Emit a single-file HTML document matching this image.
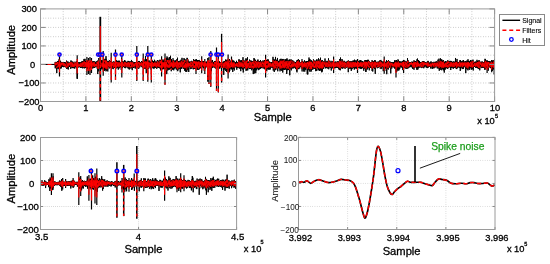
<!DOCTYPE html>
<html><head><meta charset="utf-8"><title>Signal</title><style>
html,body{margin:0;padding:0;background:#fff;overflow:hidden}
svg{display:block}
text{font-family:"Liberation Sans",Arial,Helvetica,sans-serif;fill:#000;stroke:#000;stroke-width:0.3px}
.tl{font-size:9.3px}
.tb{font-size:9.6px}
.ts{font-size:8.2px;fill:#222;stroke:#222;stroke-width:0.05px}
.lb{font-size:11.2px}
.lb2{font-size:9.4px;fill:#222;stroke:#222;stroke-width:0.1px}
.lg{font-size:7px;stroke-width:0.1px}
.sup{font-size:5.5px}
.sp{font-size:10.3px;fill:#1d9e1d;stroke:#1d9e1d;stroke-width:0.25px}
.g{stroke:#9a9a9a;stroke-width:0.7;stroke-dasharray:0.7 1.8;fill:none}
.g2{stroke:#b0b0b0;stroke-width:0.7;stroke-dasharray:0.7 1.4;fill:none}
.g3{stroke:#bcbcbc;stroke-width:0.7;stroke-dasharray:0.7 1.6;fill:none}
.ax{fill:none;stroke:#9a9a9a;stroke-width:1}
.tk{fill:none;stroke:#888;stroke-width:1}
.sb{fill:none;stroke:#000;stroke-width:1;stroke-linejoin:bevel}
.sk{fill:none;stroke:#000;stroke-width:1.2}
.skr{fill:none;stroke:#f00;stroke-width:1.2}
.sr{fill:none;stroke:#f00;stroke-width:0.85;stroke-linejoin:bevel}
.hit{fill:#f55;stroke:#00f;stroke-width:1.4}
</style></head><body>
<svg width="550" height="264" viewBox="0 0 550 264">
<rect width="550" height="264" fill="#fff"/>
<path d="M63.2 8.9V101.5M85.91 8.9V101.5M108.62 8.9V101.5M131.32 8.9V101.5M154.03 8.9V101.5M176.73 8.9V101.5M199.44 8.9V101.5M222.14 8.9V101.5M244.84 8.9V101.5M267.55 8.9V101.5M290.25 8.9V101.5M312.96 8.9V101.5M335.67 8.9V101.5M358.37 8.9V101.5M381.07 8.9V101.5M403.78 8.9V101.5M426.49 8.9V101.5M449.19 8.9V101.5M471.89 8.9V101.5M40.5 92.24H494.6M40.5 82.98H494.6M40.5 73.72H494.6M40.5 64.46H494.6M40.5 55.2H494.6M40.5 45.94H494.6M40.5 36.68H494.6M40.5 27.42H494.6M40.5 18.16H494.6" class="g"/>
<path d="M40.5 64.46H55" stroke="#000" stroke-width="1.1" fill="none"/>
<path d="M40.5 64.46H55" stroke="#f00" stroke-width="1.1" fill="none" stroke-dasharray="4 3"/>
<path d="M40.5 64.46V70" stroke="#f00" stroke-width="1" fill="none"/>
<path d="M55 61.95 55.25 68.32 55.5 62.88 55.75 65.97 56 61.85 56.25 67.12 56.5 62.46 56.75 73.11 57 62.24 57.25 66.82 57.5 61.12 57.75 68.49 58 61.02 58.25 68.75 58.5 62.32 58.75 66.68 59 59.38 59.25 69.43 59.5 62.6 59.75 68.93 60 62.27 60.25 68.41 60.5 60.77 60.75 67.45 61 61.86 61.25 68.38 61.5 62.62 61.75 66.46 62 62.21 62.25 66.11 62.5 62.05 62.75 66.86 63 62.14 63.25 66.74 63.5 63.2 63.75 67.19 64 62.61 64.25 66.66 64.5 62.17 64.75 65.91 65 62.02 65.25 66.71 65.5 63.32 65.75 67.13 66 62.36 66.25 68.02 66.5 60.61 66.75 68.86 67 62.29 67.25 68.61 67.5 61.71 67.75 66.97 68 61.52 68.25 69.51 68.5 63.2 68.75 66.9 69 62.32 69.25 66.83 69.5 62.74 69.75 67.02 70 63.26 70.25 67 70.5 61.73 70.75 68.87 71 60.42 71.25 67.07 71.5 61.57 71.75 67.5 72 63.1 72.25 67.76 72.5 61.63 72.75 68.15 73 61.79 73.25 67.79 73.5 62.72 73.75 68.2 74 63.22 74.25 67.57 74.5 63.09 74.75 68.63 75 61.66 75.25 66.36 75.5 62.91 75.75 67.19 76 62.56 76.25 67.34 76.5 61.9 76.75 68 77 61.18 77.25 78.87 77.5 61.6 77.75 68.05 78 62.19 78.25 67.33 78.5 62.82 78.75 66.03 79 62.34 79.25 67.11 79.5 62.31 79.75 66.86 80 63.4 80.25 67.55 80.5 62.15 80.75 67.83 81 62.25 81.25 67.65 81.5 62.59 81.75 67.44 82 61.03 82.25 66.94 82.5 61.59 82.75 68.36 83 61.48 83.25 67.75 83.5 61.24 83.75 66.56 84 58.95 84.25 68.16 84.5 60.02 84.75 68.3 85 58.83 85.25 67.33 85.5 61.09 85.75 67.93 86 62 86.25 67.49 86.5 62.25 86.75 67.86 87 61.23 87.25 68.16 87.5 60.63 87.75 68.98 88 60.31 88.25 67.97 88.5 61.14 88.75 67.7 89 62.59 89.25 68.92 89.5 62.32 89.75 67.1 90 62.57 90.25 67.99 90.5 62.69 90.75 66.41 91 60.98 91.25 67.83 91.5 62.3 91.75 67.28 92 61.15 92.25 66.69 92.5 63.01 92.75 68.5 93 61.22 93.25 66.26 93.5 61.46 93.75 67.82 94 61.63 94.25 67.69 94.5 61.65 94.75 68.01 95 61.58 95.25 66.4 95.5 62.29 95.75 66.28 96 62.22 96.25 66.3 96.5 61.48 96.75 67.1 97 61.53 97.25 68.75 97.5 60.62 97.75 74.05 98 62.31 98.25 67.08 98.5 62.09 98.75 66.11 99 63.61 99.25 66.97 99.5 62.76 99.75 66.1 100 63.37 100.25 68.22 100.5 63.11 100.75 67.15 101 62.35 101.25 67.51 101.5 60.32 101.75 69.28 102 59.97 102.25 69.25 102.5 61.68 102.75 67.97 103 61.52 103.25 67.43 103.5 59.59 103.75 68.75 104 59.41 104.25 70.85 104.5 61.59 104.75 70.54 105 58.81 105.25 67.87 105.5 59.35 105.75 70.11 106 56.15 106.25 67.78 106.5 59.88 106.75 70.81 107 61.51 107.25 68.37 107.5 61.84 107.75 71.38 108 60.75 108.25 66.99 108.5 61.86 108.75 66.44 109 61.07 109.25 68.46 109.5 60.28 109.75 67.8 110 61.27 110.25 66.49 110.5 61.11 110.75 67.65 111 62.66 111.25 67.56 111.5 61.38 111.75 66.76 112 62.79 112.25 68.65 112.5 62.94 112.75 67 113 61.75 113.25 69.14 113.5 61.62 113.75 67.66 114 61.68 114.25 68.02 114.5 61.93 114.75 67.8 115 62.03 115.25 67.88 115.5 61.04 115.75 66.29 116 61.18 116.25 68.42 116.5 60.27 116.75 68.01 117 62.42 117.25 68.04 117.5 60.86 117.75 66.83 118 62.16 118.25 69.6 118.5 60.75 118.75 68.91 119 61.64 119.25 66.47 119.5 60.76 119.75 67.88 120 62.77 120.25 66.56 120.5 62.92 120.75 66.55 121 61.88 121.25 69.91 121.5 58.32 121.75 68.01 122 61.18 122.25 68.18 122.5 61.57 122.75 67.27 123 61.04 123.25 66.91 123.5 61.94 123.75 66.68 124 62.09 124.25 67.17 124.5 60.09 124.75 67.88 125 60.49 125.25 68.23 125.5 61.61 125.75 66.21 126 61.83 126.25 66.72 126.5 62.41 126.75 67.26 127 61.73 127.25 67.54 127.5 62.67 127.75 67.18 128 60.85 128.25 68.74 128.5 61.01 128.75 66.24 129 62.05 129.25 69.52 129.5 61.43 129.75 68.53 130 61.85 130.25 68.42 130.5 61.62 130.75 66.54 131 61.45 131.25 68.01 131.5 60.01 131.75 68.4 132 62.25 132.25 70.18 132.5 61.44 132.75 66.23 133 61.81 133.25 67.75 133.5 62.62 133.75 67.97 134 62.44 134.25 67.08 134.5 62.23 134.75 67.21 135 62.69 135.25 68.63 135.5 61.99 135.75 65.82 136 62.46 136.25 66.93 136.5 62.23 136.75 66.53 137 61.75 137.25 66.37 137.5 62.01 137.75 67.48 138 62.28 138.25 68.47 138.5 61.14 138.75 68.66 139 60.95 139.25 67.02 139.5 61.27 139.75 67.37 140 61.99 140.25 65.88 140.5 62.91 140.75 66.13 141 62.13 141.25 66.22 141.5 61.07 141.75 66.59 142 63.23 142.25 67.37 142.5 62.26 142.75 67.2 143 61.25 143.25 67.64 143.5 61.8 143.75 68.91 144 59.39 144.25 68.64 144.5 60.94 144.75 68.06 145 62.12 145.25 67.65 145.5 55.98 145.75 68.95 146 60.65 146.25 73.16 146.5 59.19 146.75 69.36 147 60.13 147.25 69.92 147.5 60.6 147.75 68.57 148 61.79 148.25 67.71 148.5 61.57 148.75 68.64 149 60.22 149.25 66.79 149.5 61.63 149.75 67.3 150 61.78 150.25 66.78 150.5 62.27 150.75 68.28 151 61.53 151.25 70.13 151.5 62.62 151.75 67.17 152 59.82 152.25 67.29 152.5 60.88 152.75 67.55 153 61.29 153.25 68.67 153.5 61.23 153.75 67.39 154 62.32 154.25 68.47 154.5 59.84 154.75 66.56 155 60.78 155.25 67.71 155.5 62.08 155.75 67.78 156 62.22 156.25 67.82 156.5 62.12 156.75 68.85 157 60.76 157.25 67.53 157.5 60.07 157.75 66.83 158 61.46 158.25 67.93 158.5 62.02 158.75 67.51 159 60.26 159.25 67.77 159.5 62.07 159.75 68.38 160 59.68 160.25 68.06 160.5 60.55 160.75 70.46 161 60.82 161.25 68.79 161.5 60.59 161.75 67.36 162 60.24 162.25 68.91 162.5 61.65 162.75 69.39 163 59.45 163.25 69.1 163.5 60.79 163.75 68.33 164 60.74 164.25 69.11 164.5 59.45 164.75 67.45 165 61.25 165.25 67.6 165.5 61.74 165.75 68.56 166 61 166.25 69.41 166.5 58.29 166.75 74.11 167 56.43 167.25 67.86 167.5 57.93 167.75 70.5 168 57.57 168.25 69.79 168.5 60.59 168.75 68.05 169 59.08 169.25 69.73 169.5 57.03 169.75 68.68 170 58.12 170.25 68.75 170.5 55.8 170.75 68.13 171 61.54 171.25 71.23 171.5 59.15 171.75 68.62 172 60.61 172.25 69.21 172.5 61.27 172.75 69.47 173 62.74 173.25 68.34 173.5 59.83 173.75 70.3 174 60.56 174.25 68.68 174.5 62.02 174.75 67.54 175 60.61 175.25 67.38 175.5 61.81 175.75 68.25 176 60.05 176.25 69.49 176.5 60.57 176.75 67.88 177 59 177.25 70.46 177.5 57.71 177.75 71.15 178 61.2 178.25 69.33 178.5 61.25 178.75 69.17 179 61.61 179.25 68.52 179.5 61.48 179.75 68.18 180 60.68 180.25 72.35 180.5 60.99 180.75 68.43 181 59.74 181.25 68.96 181.5 60.21 181.75 67.96 182 57.84 182.25 66.99 182.5 62.2 182.75 66.92 183 61.27 183.25 68.91 183.5 61.12 183.75 67.42 184 58.13 184.25 68.24 184.5 58.92 184.75 70.81 185 59.07 185.25 69.61 185.5 60.66 185.75 71.77 186 62.38 186.25 69.82 186.5 61.65 186.75 71.93 187 57.83 187.25 67.79 187.5 58.05 187.75 70.17 188 59.52 188.25 68.17 188.5 61.6 188.75 71.97 189 61.59 189.25 65.8 189.5 61.82 189.75 66.6 190 61.83 190.25 69.14 190.5 61.61 190.75 66.97 191 62.35 191.25 67.17 191.5 60.86 191.75 68.89 192 62.38 192.25 66.81 192.5 61.57 192.75 66.45 193 62.47 193.25 69.35 193.5 59.05 193.75 68.94 194 61.19 194.25 68.61 194.5 59.92 194.75 69 195 60.66 195.25 68.82 195.5 59.58 195.75 68.95 196 60.11 196.25 66.9 196.5 59.29 196.75 67.21 197 60.66 197.25 69.9 197.5 60.14 197.75 68.3 198 60.38 198.25 69.67 198.5 60.23 198.75 69.6 199 60.09 199.25 69.1 199.5 60.56 199.75 68.7 200 62.85 200.25 67.07 200.5 60.99 200.75 68.21 201 61.97 201.25 67.34 201.5 62.71 201.75 67.31 202 61.02 202.25 66.41 202.5 63.04 202.75 66.86 203 61.2 203.25 68.21 203.5 61.33 203.75 67.25 204 61.57 204.25 70.77 204.5 61.53 204.75 67.16 205 61.76 205.25 68.69 205.5 62.95 205.75 66.89 206 62.56 206.25 67.21 206.5 61.72 206.75 65.64 207 61.64 207.25 67.58 207.5 61.19 207.75 68.95 208 61.6 208.25 67.99 208.5 62.57 208.75 68.11 209 62.99 209.25 66.2 209.5 62.45 209.75 66.3 210 63.16 210.25 67.37 210.5 62.69 210.75 67.22 211 61.82 211.25 71.25 211.5 62.88 211.75 67.33 212 60.34 212.25 68.07 212.5 59.98 212.75 65.87 213 61.84 213.25 66.5 213.5 62.59 213.75 67.25 214 62.37 214.25 67.55 214.5 61.15 214.75 66.78 215 61.31 215.25 68.25 215.5 61.29 215.75 68.42 216 60.87 216.25 66.54 216.5 62.62 216.75 69.7 217 61.61 217.25 67.55 217.5 62.83 217.75 66.05 218 62.04 218.25 66.3 218.5 62.7 218.75 68.01 219 62.88 219.25 68.14 219.5 61.34 219.75 68.69 220 62.37 220.25 67.43 220.5 62.03 220.75 66.79 221 62.49 221.25 66.06 221.5 62.98 221.75 67.43 222 62.86 222.25 66.37 222.5 63.15 222.75 67.34 223 62.17 223.25 68.21 223.5 62.38 223.75 74.89 224 60.94 224.25 69.6 224.5 61.31 224.75 67.01 225 61.24 225.25 66.81 225.5 59.57 225.75 71.03 226 60.93 226.25 67.65 226.5 60.31 226.75 72.04 227 59.6 227.25 68.79 227.5 60.69 227.75 70.34 228 60.58 228.25 67.52 228.5 60.41 228.75 70.97 229 60.68 229.25 72.23 229.5 59.03 229.75 70.81 230 62.28 230.25 68.34 230.5 61.88 230.75 68.37 231 60.43 231.25 69.17 231.5 61.78 231.75 69.35 232 59.65 232.25 68.23 232.5 61.11 232.75 71.99 233 60.25 233.25 68.86 233.5 61.08 233.75 68.37 234 60.87 234.25 70.49 234.5 62.49 234.75 67.81 235 62.67 235.25 66.85 235.5 62.32 235.75 67.11 236 62.73 236.25 66.61 236.5 60.84 236.75 69.7 237 62.34 237.25 67.12 237.5 62.49 237.75 68.04 238 62.64 238.25 67.07 238.5 60.34 238.75 68.02 239 59.11 239.25 68.32 239.5 60.38 239.75 68.57 240 61.7 240.25 66.67 240.5 60.69 240.75 71.16 241 60.25 241.25 68.13 241.5 60.37 241.75 68.51 242 61.46 242.25 67.02 242.5 61.66 242.75 69.56 243 57.21 243.25 72.5 243.5 61.65 243.75 67.95 244 60.19 244.25 68.46 244.5 61.6 244.75 66.83 245 62.33 245.25 66.37 245.5 61.89 245.75 66.84 246 59.06 246.25 69.52 246.5 59.59 246.75 70.39 247 60.29 247.25 69.7 247.5 57.29 247.75 70.36 248 61.22 248.25 68.09 248.5 62.84 248.75 67.94 249 62.57 249.25 68.7 249.5 59.61 249.75 69.07 250 62.61 250.25 69.04 250.5 60.72 250.75 67.87 251 60.5 251.25 68.04 251.5 61.86 251.75 70.28 252 60.98 252.25 68.36 252.5 61 252.75 68.66 253 61.4 253.25 74.06 253.5 61.54 253.75 68.83 254 58.01 254.25 73.5 254.5 58.92 254.75 69.7 255 62.29 255.25 67.36 255.5 59.76 255.75 73.16 256 60.9 256.25 70.35 256.5 61.01 256.75 67.08 257 62.18 257.25 67.56 257.5 59.94 257.75 68.85 258 59.55 258.25 70.16 258.5 61.15 258.75 68.3 259 62.66 259.25 69.51 259.5 61.13 259.75 68.65 260 62.31 260.25 68.73 260.5 59.99 260.75 68.44 261 63.05 261.25 67.87 261.5 62.55 261.75 67.97 262 61.05 262.25 66.3 262.5 62.09 262.75 68.26 263 60.42 263.25 66.7 263.5 62.68 263.75 68.5 264 60.84 264.25 67.14 264.5 60.13 264.75 69.27 265 62.16 265.25 68.1 265.5 60.58 265.75 69.33 266 59.91 266.25 67.83 266.5 60.33 266.75 71.07 267 61.13 267.25 67.62 267.5 59.86 267.75 69.22 268 59.11 268.25 69.05 268.5 60.22 268.75 69.66 269 61.25 269.25 67.9 269.5 62.01 269.75 69.52 270 61.91 270.25 69.34 270.5 62 270.75 66.68 271 62.88 271.25 67.64 271.5 62.28 271.75 66.58 272 62.43 272.25 67.97 272.5 62.17 272.75 67.5 273 56.83 273.25 70.56 273.5 61.35 273.75 67.73 274 59.06 274.25 71.97 274.5 60.05 274.75 68.75 275 60.56 275.25 70.2 275.5 56.89 275.75 69.41 276 59.58 276.25 67.82 276.5 60.46 276.75 67.12 277 60.06 277.25 69.71 277.5 57.94 277.75 71.27 278 61.29 278.25 67.87 278.5 60.88 278.75 67.55 279 61.8 279.25 68.87 279.5 60.64 279.75 68.65 280 61.23 280.25 70.33 280.5 59.44 280.75 68.44 281 58.72 281.25 68.16 281.5 60.56 281.75 70.85 282 59.13 282.25 67.71 282.5 59.36 282.75 72.51 283 58.94 283.25 69.29 283.5 60.03 283.75 69.62 284 59.18 284.25 69.8 284.5 61.23 284.75 69.52 285 60.44 285.25 69.62 285.5 59.34 285.75 68.16 286 60.53 286.25 68.72 286.5 59.37 286.75 73.96 287 58.35 287.25 69.36 287.5 61.33 287.75 70.23 288 59.73 288.25 69.71 288.5 61.89 288.75 69.82 289 60.26 289.25 68.08 289.5 59.54 289.75 75.3 290 61.15 290.25 67.72 290.5 60.2 290.75 68.53 291 59.31 291.25 70.37 291.5 61.32 291.75 66.75 292 59.97 292.25 67.71 292.5 61.87 292.75 68.51 293 60.61 293.25 67.24 293.5 61.76 293.75 68.25 294 61.47 294.25 65.88 294.5 62.99 294.75 67.64 295 61.96 295.25 67.47 295.5 62.36 295.75 69.08 296 62.71 296.25 68.71 296.5 62.05 296.75 71.46 297 60.89 297.25 67.56 297.5 59.87 297.75 68.55 298 61.2 298.25 68.98 298.5 59.28 298.75 69.18 299 62.22 299.25 67.74 299.5 60.21 299.75 68.43 300 62.13 300.25 66.87 300.5 63.23 300.75 65.9 301 62.4 301.25 66.92 301.5 62.41 301.75 68.27 302 61.58 302.25 69.14 302.5 61.03 302.75 67.74 303 62.04 303.25 71.51 303.5 63.08 303.75 67.46 304 61.38 304.25 68.27 304.5 60.36 304.75 71.62 305 61.78 305.25 66.56 305.5 61.56 305.75 69.87 306 62.22 306.25 67.85 306.5 61.03 306.75 67.63 307 61.84 307.25 74.22 307.5 61.12 307.75 74.46 308 61.99 308.25 70.15 308.5 60.42 308.75 67.92 309 57.53 309.25 68.02 309.5 59.39 309.75 71.56 310 59.15 310.25 69.06 310.5 61.18 310.75 69.11 311 61.49 311.25 70.8 311.5 60.59 311.75 69.93 312 60.86 312.25 67.27 312.5 62.69 312.75 69.64 313 62.16 313.25 67.98 313.5 59.42 313.75 68.66 314 62.04 314.25 69.02 314.5 60.88 314.75 68.09 315 60.45 315.25 68.22 315.5 61.6 315.75 71.18 316 61.02 316.25 68.18 316.5 59.52 316.75 70.97 317 60.66 317.25 68.09 317.5 61.01 317.75 67.43 318 59.39 318.25 69.93 318.5 58.33 318.75 69.45 319 59.28 319.25 71.01 319.5 60.68 319.75 70.47 320 61.26 320.25 70.6 320.5 57.7 320.75 69.7 321 61.48 321.25 68.23 321.5 60.72 321.75 72.3 322 61.11 322.25 71.54 322.5 60.48 322.75 68.9 323 61.14 323.25 68.62 323.5 62.28 323.75 68.53 324 61.49 324.25 66.75 324.5 62.62 324.75 66.65 325 58.51 325.25 67.12 325.5 61.81 325.75 68.44 326 61.41 326.25 67.95 326.5 62.23 326.75 67.5 327 60.84 327.25 65.92 327.5 61.71 327.75 68.55 328 61.83 328.25 66.42 328.5 58.36 328.75 69.24 329 61.3 329.25 67.01 329.5 60.68 329.75 67.12 330 61.95 330.25 67.92 330.5 62.21 330.75 67.18 331 60.81 331.25 70.52 331.5 62.37 331.75 66.7 332 61.66 332.25 68.42 332.5 61.84 332.75 67.25 333 60.91 333.25 66.1 333.5 62.08 333.75 66.63 334 62.14 334.25 67.72 334.5 62.88 334.75 68.3 335 61.74 335.25 68.13 335.5 61.73 335.75 67.66 336 62.29 336.25 67.8 336.5 63.08 336.75 66.83 337 61.52 337.25 67.85 337.5 61.56 337.75 67.72 338 61.76 338.25 67.71 338.5 61.64 338.75 69.02 339 61.56 339.25 70.03 339.5 59.19 339.75 69.72 340 59.64 340.25 70.29 340.5 57.52 340.75 68.49 341 62.33 341.25 68.09 341.5 61.87 341.75 66.58 342 59 342.25 68.61 342.5 60.59 342.75 68.38 343 62.13 343.25 67.38 343.5 61.81 343.75 67.41 344 60.75 344.25 68.35 344.5 61.19 344.75 67.73 345 62.11 345.25 68.65 345.5 62.58 345.75 67.44 346 61.64 346.25 67.51 346.5 62.9 346.75 67.42 347 61.51 347.25 66.73 347.5 61.07 347.75 67.17 348 60.72 348.25 72.19 348.5 60.59 348.75 68.27 349 61.21 349.25 68.22 349.5 62.17 349.75 68.62 350 60.99 350.25 67.71 350.5 61.88 350.75 68.77 351 61.01 351.25 70.86 351.5 62.61 351.75 69.39 352 61.14 352.25 68.74 352.5 61.7 352.75 67.95 353 60.55 353.25 67.59 353.5 61.12 353.75 67.31 354 60.36 354.25 69.6 354.5 59.7 354.75 69.05 355 61.74 355.25 68.02 355.5 61.69 355.75 66.83 356 60.02 356.25 68.78 356.5 61.17 356.75 68.22 357 62.62 357.25 66.9 357.5 62.12 357.75 67.41 358 62.09 358.25 68.14 358.5 60.88 358.75 67.76 359 62.82 359.25 67.2 359.5 61.42 359.75 68.25 360 60.01 360.25 68.71 360.5 60.4 360.75 68.21 361 60.32 361.25 69.04 361.5 61.73 361.75 67.85 362 61.33 362.25 68.12 362.5 61.17 362.75 67.32 363 62.87 363.25 68.53 363.5 62.1 363.75 70.69 364 61.47 364.25 67.91 364.5 60.56 364.75 68.65 365 60.55 365.25 67.44 365.5 60.41 365.75 71.79 366 60.24 366.25 66.47 366.5 60.58 366.75 69.17 367 61.77 367.25 69.46 367.5 60.16 367.75 67.75 368 59.66 368.25 67.75 368.5 60.01 368.75 68.16 369 60.88 369.25 70.32 369.5 61.74 369.75 66.02 370 63.14 370.25 67.78 370.5 62.26 370.75 67.67 371 61.94 371.25 66.8 371.5 62.58 371.75 67.46 372 62.94 372.25 68.28 372.5 60.82 372.75 71.53 373 61.46 373.25 68 373.5 61.72 373.75 66.07 374 61.2 374.25 67.81 374.5 60.43 374.75 68.92 375 60.42 375.25 73.87 375.5 60.63 375.75 67.1 376 62.14 376.25 67.07 376.5 63.15 376.75 67.09 377 61.71 377.25 68.26 377.5 62.01 377.75 67.7 378 61.78 378.25 67.72 378.5 62.43 378.75 66.51 379 61.24 379.25 67.02 379.5 60.94 379.75 67.01 380 60.17 380.25 68.73 380.5 60.31 380.75 66.65 381 61.77 381.25 68.44 381.5 60.67 381.75 68.6 382 61.72 382.25 66.68 382.5 62.07 382.75 66.78 383 61.27 383.25 71.18 383.5 61.8 383.75 67.04 384 62.31 384.25 66.95 384.5 61.11 384.75 67.16 385 61.61 385.25 68.58 385.5 62.16 385.75 66.27 386 62.93 386.25 71 386.5 60.26 386.75 74.19 387 62.55 387.25 66.58 387.5 61.52 387.75 68.87 388 60.9 388.25 69.5 388.5 60.22 388.75 67.35 389 61.15 389.25 67.43 389.5 62.84 389.75 66.76 390 61.56 390.25 67.8 390.5 62.51 390.75 73.36 391 62.57 391.25 66.21 391.5 62.4 391.75 68.57 392 62.37 392.25 67 392.5 62.37 392.75 66.57 393 63.07 393.25 67.47 393.5 62.16 393.75 65.96 394 63.12 394.25 66.91 394.5 60.52 394.75 68.58 395 60.53 395.25 68.46 395.5 61.68 395.75 67.65 396 61.83 396.25 71.62 396.5 60.23 396.75 71.63 397 62.15 397.25 70.53 397.5 61.04 397.75 68.73 398 59.36 398.25 68 398.5 60.41 398.75 70.62 399 61.17 399.25 69.48 399.5 62.68 399.75 68.78 400 61 400.25 67.29 400.5 62.68 400.75 66.81 401 62.28 401.25 67.24 401.5 63.14 401.75 67.35 402 61.23 402.25 67.41 402.5 60.94 402.75 70.1 403 60.94 403.25 68.26 403.5 61.26 403.75 67.66 404 60.32 404.25 66.31 404.5 62.41 404.75 67.46 405 60.85 405.25 68.45 405.5 62.06 405.75 67.65 406 61.27 406.25 68.95 406.5 62.52 406.75 67.7 407 61.68 407.25 66.24 407.5 58.23 407.75 68.79 408 60.11 408.25 67.91 408.5 62.65 408.75 66.9 409 61.94 409.25 67.08 409.5 62.98 409.75 67.45 410 62.03 410.25 66.14 410.5 62.31 410.75 66.75 411 62.31 411.25 66.95 411.5 61.72 411.75 66.31 412 62.1 412.25 68.02 412.5 61.72 412.75 68.98 413 63.17 413.25 67.37 413.5 62.08 413.75 68.39 414 61.48 414.25 67.76 414.5 61.98 414.75 67.75 415 61.08 415.25 66.35 415.5 61.13 415.75 66.42 416 61.73 416.25 67.81 416.5 62 416.75 69.73 417 59.3 417.25 66.87 417.5 58.59 417.75 69.71 418 60.01 418.25 68.38 418.5 60.32 418.75 67.17 419 62.63 419.25 66.15 419.5 60.94 419.75 67.69 420 62.68 420.25 66.39 420.5 62.32 420.75 65.52 421 62.32 421.25 68 421.5 61.9 421.75 68.08 422 62.47 422.25 67.49 422.5 61.56 422.75 66.05 423 61.2 423.25 66.32 423.5 61.08 423.75 68.25 424 62.51 424.25 67.18 424.5 61.59 424.75 66.54 425 62.47 425.25 65.86 425.5 62.15 425.75 66.41 426 62.71 426.25 67.68 426.5 62.67 426.75 66.03 427 62.79 427.25 68.14 427.5 61.62 427.75 67.28 428 60.87 428.25 67.59 428.5 61.66 428.75 66.39 429 62.31 429.25 66.79 429.5 63.65 429.75 66.97 430 62.73 430.25 66.88 430.5 62.42 430.75 68.52 431 61.32 431.25 67.04 431.5 62.72 431.75 67.3 432 62.14 432.25 68.98 432.5 62.69 432.75 66.44 433 62.8 433.25 68.34 433.5 62.85 433.75 66.93 434 61.75 434.25 68.23 434.5 62.15 434.75 66.88 435 62.15 435.25 67.06 435.5 61.69 435.75 67.45 436 62.27 436.25 65.97 436.5 61.39 436.75 66.06 437 62.18 437.25 68.36 437.5 62.01 437.75 67.29 438 59.67 438.25 68.54 438.5 62.69 438.75 66.51 439 58.64 439.25 70.75 439.5 61.84 439.75 68.17 440 61.09 440.25 69.85 440.5 58.38 440.75 68.02 441 62.03 441.25 68 441.5 59.48 441.75 70.24 442 59.73 442.25 68.87 442.5 60.88 442.75 67.17 443 62.72 443.25 68.33 443.5 60.25 443.75 70.41 444 61.65 444.25 72.58 444.5 62.82 444.75 66.67 445 61.75 445.25 69.62 445.5 61.07 445.75 67.99 446 62.11 446.25 68.15 446.5 61.82 446.75 67.47 447 61.36 447.25 68.63 447.5 60.45 447.75 68.79 448 62.28 448.25 67.34 448.5 60.76 448.75 67.93 449 62.9 449.25 66 449.5 61.58 449.75 67.02 450 60.84 450.25 67.48 450.5 61.14 450.75 70.02 451 60.94 451.25 67.46 451.5 61.38 451.75 67.86 452 61.5 452.25 66.13 452.5 62.35 452.75 67.61 453 62.63 453.25 68.82 453.5 61.65 453.75 67.56 454 61.45 454.25 67.85 454.5 61.96 454.75 65.96 455 62.14 455.25 67.99 455.5 57.97 455.75 66.21 456 61.57 456.25 69.01 456.5 61.14 456.75 69.09 457 58.95 457.25 68.13 457.5 62.37 457.75 67.36 458 62 458.25 66.49 458.5 62.04 458.75 67.47 459 61.99 459.25 66.39 459.5 60.55 459.75 67.82 460 61.74 460.25 70.88 460.5 60.11 460.75 69.26 461 61.23 461.25 67.77 461.5 62.51 461.75 66.55 462 60.97 462.25 67.91 462.5 61.82 462.75 69.06 463 60.4 463.25 69.01 463.5 60.07 463.75 67.07 464 62.17 464.25 66.09 464.5 62.78 464.75 66.38 465 61.03 465.25 67.61 465.5 61.26 465.75 73.1 466 61.13 466.25 67.94 466.5 62.35 466.75 68.76 467 60.46 467.25 69.62 467.5 61.9 467.75 67.94 468 59.27 468.25 68.56 468.5 61.44 468.75 66.32 469 60.9 469.25 69.91 469.5 61.48 469.75 66.61 470 62.22 470.25 68.03 470.5 60.05 470.75 68.18 471 60.96 471.25 69.7 471.5 60.76 471.75 66.92 472 60.43 472.25 69.24 472.5 61.55 472.75 67.66 473 59.68 473.25 70.45 473.5 63.03 473.75 66.43 474 63.37 474.25 66.63 474.5 62.31 474.75 66.65 475 61.69 475.25 66.82 475.5 62.09 475.75 67.99 476 61.49 476.25 66.65 476.5 62.6 476.75 67.72 477 59.8 477.25 67.87 477.5 61.17 477.75 68.33 478 61.38 478.25 68.18 478.5 60.82 478.75 69.06 479 60.16 479.25 67.01 479.5 60.82 479.75 70.31 480 61.92 480.25 66.49 480.5 62.13 480.75 66.26 481 61.58 481.25 68.08 481.5 62.74 481.75 66.31 482 61.65 482.25 67.44 482.5 61.72 482.75 67.83 483 61.99 483.25 67.3 483.5 62.1 483.75 67.49 484 62.04 484.25 67.97 484.5 61.56 484.75 69.73 485 58.82 485.25 69.42 485.5 59.42 485.75 68.05 486 60.38 486.25 67.04 486.5 61.25 486.75 66.78 487 62.83 487.25 68.08 487.5 60.96 487.75 69.11 488 61.8 488.25 70.7 488.5 61.27 488.75 66.79 489 61.5 489.25 65.86 489.5 61.37 489.75 67.44 490 61.49 490.25 66.92 490.5 62.39 490.75 68.16 491 61.22 491.25 68.12 491.5 63.04 491.75 71.03 492 60.3 492.25 70.89 492.5 60.84 492.75 68.31 493 61.08 493.25 68.11 493.5 60.71 493.75 69.5 494 60.22 494.25 74.45 494.5 58.95" class="sb"/>
<path d="M59.5 56.2V76.6M77.2 55.3V78.4M86.9 57V75M88.5 58V74M90 57V75M91.5 58V73M98.7 58V71.5M103.2 51V75.8M106 59V71.5M111.2 52.8V82.6M115.5 49.4V80M121.8 55V77.5M136.8 46V81M143.2 53.6V81M147.8 46V81.8M151.3 55V82.6M161.6 56.2V76.6M165 53.6V84.7M173 57.9V70M196 60V74M201.7 56.2V73.2M204.8 59V74M207.7 58V81.8M209 57V84M210.8 51V87M216.5 47.5V91M218.3 55V92.6M228.1 54.5V78.4M231.5 56.4V68M265.6 54.8V77.6M333.6 56.4V73M366 60V72M384.2 56.4V73.8M396 60V77.6M403.6 60V73M487.1 60V73M491.7 60V72.3M297 60V72.5M302 59V71.5M311 60V72M322 60V71M357.5 59V73M372 60V71M246 58V71M280 59V71.5M443 61V69.5M468 61V70.5M414 60V70" class="sk"/>
<path d="M55 62.62 55.25 66.92 55.5 63.26 55.75 65.66 56 62.52 56.25 66.07 56.5 62.98 56.75 68.07 57 62.93 57.25 66.17 57.5 61.91 57.75 67.24 58 62.01 58.25 67.24 58.5 62.89 58.75 66 59 61.88 59.25 67.94 59.5 63.15 59.75 67.31 60 62.87 60.25 67.42 60.5 62.43 60.75 66.56 61 62.56 61.25 66.72 61.5 63.09 61.75 65.97 62 62.86 62.25 65.48 62.5 62.63 62.75 66.08 63 62.88 63.25 66.1 63.5 63.49 63.75 66.57 64 63 64.25 66.18 64.5 62.74 64.75 65.62 65 62.59 65.25 66.01 65.5 63.62 65.75 66.57 66 63.31 66.25 67.26 66.5 61.69 66.75 67.76 67 62.77 67.25 67.42 67.5 62.57 67.75 66.46 68 62.99 68.25 67.06 68.5 63.57 68.75 66.3 69 62.83 69.25 65.93 69.5 63.18 69.75 66.45 70 63.54 70.25 66.3 70.5 62.3 70.75 67.1 71 61.96 71.25 66.34 71.5 62.36 71.75 66.54 72 63.51 72.25 66.81 72.5 62.21 72.75 67.05 73 62.48 73.25 66.75 73.5 63.08 73.75 66.78 74 63.54 74.25 66.76 74.5 63.46 74.75 67.02 75 62.39 75.25 65.97 75.5 63.37 75.75 66.35 76 63.11 76.25 66.56 76.5 62.85 76.75 67.23 77 62.11 77.25 70.74 77.5 62.26 77.75 66.89 78 62.65 78.25 66.65 78.5 63.43 78.75 65.57 79 62.79 79.25 66.17 79.5 63.03 79.75 66.15 80 63.63 80.25 66.71 80.5 62.67 80.75 67.06 81 62.73 81.25 66.78 81.5 63.34 81.75 66.57 82 62.22 82.25 66.34 82.5 62.5 82.75 66.85 83 62.91 83.25 67.09 83.5 62.24 83.75 65.93 84 61.45 84.25 67.1 84.5 61.75 84.75 66.32 85 61.42 85.25 66.75 85.5 61.98 85.75 66.87 86 62.65 86.25 66.61 86.5 62.81 86.75 66.87 87 62.13 87.25 67.24 87.5 61.52 87.75 67.64 88 61.87 88.25 67 88.5 62.4 88.75 66.96 89 63.11 89.25 67.4 89.5 62.98 89.75 65.93 90 63.16 90.25 66.3 90.5 63.1 90.75 65.92 91 61.91 91.25 66.73 91.5 62.89 91.75 66.44 92 61.88 92.25 66.21 92.5 63.38 92.75 67.6 93 62 93.25 65.72 93.5 62.22 93.75 66.88 94 62.35 94.25 66.81 94.5 62.28 94.75 67.15 95 62.36 95.25 66.01 95.5 63.07 95.75 65.76 96 62.97 96.25 65.64 96.5 62.39 96.75 66.51 97 62.14 97.25 67.63 97.5 61.67 97.75 68.64 98 62.8 98.25 66.26 98.5 62.67 98.75 65.61 99 63.8 99.25 65.69 99.5 63.18 99.75 65.66 100 63.69 100.25 66.41 100.5 63.57 100.75 66.22 101 63.02 101.25 66.34 101.5 61.81 101.75 67.61 102 61.82 102.25 67.9 102.5 62.4 102.75 67.2 103 62.5 103.25 66.64 103.5 60.66 103.75 67.38 104 60.55 104.25 68.63 104.5 62.33 104.75 68.71 105 60.38 105.25 67.19 105.5 60.86 105.75 68.37 106 59.83 106.25 66.77 106.5 61.04 106.75 69.4 107 62.35 107.25 67.51 107.5 62.47 107.75 68.67 108 61.93 108.25 66.35 108.5 62.59 108.75 65.84 109 61.99 109.25 67.54 109.5 61.19 109.75 67.09 110 61.94 110.25 66.06 110.5 62.06 110.75 66.34 111 63.12 111.25 66.85 111.5 62.21 111.75 66.18 112 63.3 112.25 67.29 112.5 63.28 112.75 66.2 113 62.31 113.25 67.8 113.5 62.4 113.75 67.02 114 62.55 114.25 67.25 114.5 62.46 114.75 66.65 115 62.58 115.25 67.03 115.5 62.02 115.75 65.8 116 62.39 116.25 67.28 116.5 61.9 116.75 67.27 117 62.91 117.25 67.12 117.5 61.79 117.75 66.12 118 62.68 118.25 67.62 118.5 61.97 118.75 67.39 119 62.45 119.25 65.96 119.5 61.86 119.75 66.89 120 63.27 120.25 66.09 120.5 63.35 120.75 66.07 121 62.47 121.25 67.97 121.5 61.8 121.75 66.47 122 62.1 122.25 66.94 122.5 62.29 122.75 66.65 123 62.18 123.25 66.11 123.5 62.54 123.75 65.99 124 62.8 124.25 66.54 124.5 62.15 124.75 66.8 125 62.26 125.25 66.82 125.5 62.49 125.75 65.71 126 62.64 126.25 66.23 126.5 63.07 126.75 66.69 127 62.54 127.25 66.88 127.5 63.16 127.75 66.4 128 62.25 128.25 67.08 128.5 62.12 128.75 65.8 129 62.73 129.25 67.29 129.5 62.27 129.75 67.54 130 62.6 130.25 67.58 130.5 62.35 130.75 65.93 131 62.42 131.25 67.23 131.5 62.03 131.75 67.6 132 62.82 132.25 67.59 132.5 62.58 132.75 65.69 133 62.6 133.25 66.74 133.5 63.15 133.75 66.42 134 62.91 134.25 66.28 134.5 62.98 134.75 66.37 135 63.17 135.25 66.82 135.5 62.74 135.75 65.46 136 62.9 136.25 66.37 136.5 62.8 136.75 66.02 137 62.71 137.25 65.82 137.5 62.79 137.75 66.54 138 62.85 138.25 67.22 138.5 62.09 138.75 67.54 139 62.01 139.25 66.29 139.5 63.06 139.75 66.69 140 62.55 140.25 65.5 140.5 63.4 140.75 65.67 141 62.7 141.25 65.72 141.5 62.3 141.75 65.91 142 63.56 142.25 66.51 142.5 62.94 142.75 66.4 143 62.12 143.25 66.66 143.5 62.58 143.75 67.82 144 61.35 144.25 67.5 144.5 62.05 144.75 67.16 145 62.59 145.25 67.01 145.5 60.07 145.75 67.96 146 61.84 146.25 69.24 146.5 60.63 146.75 67.94 147 61.23 147.25 67.89 147.5 61.78 147.75 67.7 148 62.36 148.25 66.84 148.5 62.4 148.75 67.54 149 62.3 149.25 66.24 149.5 62.64 149.75 66.53 150 62.53 150.25 66.12 150.5 62.79 150.75 67.4 151 62.53 151.25 67.94 151.5 63.16 151.75 66.58 152 61.94 152.25 66.62 152.5 62.02 152.75 66.73 153 61.94 153.25 67.74 153.5 62.24 153.75 66.53 154 62.97 154.25 67.36 154.5 61.53 154.75 65.89 155 61.95 155.25 66.72 155.5 62.81 155.75 66.34 156 62.92 156.25 67.09 156.5 62.72 156.75 67.95 157 62.46 157.25 66.56 157.5 61.03 157.75 66.23 158 62.1 158.25 67.2 158.5 62.72 158.75 66.67 159 62.13 159.25 66.8 159.5 62.77 159.75 67.16 160 60.86 160.25 67.16 160.5 61.45 160.75 67.53 161 62.31 161.25 67.54 161.5 62.2 161.75 66.66 162 61.59 162.25 68.01 162.5 62.4 162.75 68.07 163 60.62 163.25 67.67 163.5 61.87 163.75 67.15 164 61.98 164.25 68.01 164.5 61.43 164.75 66.48 165 62.06 165.25 66.78 165.5 62.53 165.75 67.37 166 61.93 166.25 68.37 166.5 60.87 166.75 70.23 167 60.12 167.25 66.86 167.5 60.36 167.75 68.83 168 60.2 168.25 67.51 168.5 62 168.75 67.28 169 60.45 169.25 68.62 169.5 60.62 169.75 67.51 170 59.72 170.25 67.43 170.5 59.71 170.75 67.09 171 62.45 171.25 69.76 171.5 61.1 171.75 67.39 172 61.8 172.25 68.01 172.5 61.93 172.75 68.38 173 63.17 173.25 67.53 173.5 60.89 173.75 67.2 174 61.43 174.25 67.75 174.5 62.58 174.75 66.68 175 62.35 175.25 66.56 175.5 62.57 175.75 66.87 176 61.18 176.25 67.83 176.5 61.35 176.75 67.11 177 60.56 177.25 69.13 177.5 60.9 177.75 69.28 178 61.87 178.25 68.19 178.5 62.23 178.75 67.71 179 62.62 179.25 67.68 179.5 62.68 179.75 66.53 180 61.62 180.25 68.37 180.5 62.1 180.75 67.27 181 61.15 181.25 66.82 181.5 61.33 181.75 67.04 182 60.47 182.25 66.48 182.5 62.86 182.75 66.22 183 62.1 183.25 67.48 183.5 61.94 183.75 66.65 184 60.36 184.25 67.39 184.5 60.41 184.75 69.15 185 60.57 185.25 68.57 185.5 61.55 185.75 68.42 186 62.96 186.25 68.71 186.5 62.51 186.75 69.89 187 59.85 187.25 67.03 187.5 59.37 187.75 68.59 188 61.1 188.25 66.86 188.5 62.41 188.75 68.24 189 62.42 189.25 65.46 189.5 62.54 189.75 65.79 190 62.54 190.25 67.63 190.5 62.2 190.75 66.47 191 63.01 191.25 66.54 191.5 61.7 191.75 67.41 192 63 192.25 66.22 192.5 62.26 192.75 65.84 193 63.17 193.25 68.13 193.5 60.79 193.75 67.72 194 61.96 194.25 67.5 194.5 61.2 194.75 68.02 195 61.43 195.25 67.81 195.5 60.75 195.75 67.64 196 61.33 196.25 66.34 196.5 60.63 196.75 66.6 197 61.55 197.25 68.32 197.5 61.01 197.75 67.51 198 61.44 198.25 68.18 198.5 61.74 198.75 68.55 199 61.29 199.25 67.77 199.5 61.7 199.75 67.47 200 63.22 200.25 66.24 200.5 62.15 200.75 66.82 201 62.58 201.25 66.01 201.5 63.18 201.75 66.46 202 62.33 202.25 65.79 202.5 63.4 202.75 66.06 203 62.27 203.25 66.55 203.5 62.45 203.75 66.18 204 62.25 204.25 67.75 204.5 62.29 204.75 66.45 205 62.34 205.25 66.7 205.5 63.28 205.75 66.24 206 62.94 206.25 66.5 206.5 62.86 206.75 65.27 207 62.46 207.25 66.8 207.5 62.15 207.75 67.23 208 62.28 208.25 66.9 208.5 63.01 208.75 66.15 209 63.29 209.25 65.68 209.5 63.08 209.75 65.77 210 63.42 210.25 66.46 210.5 63.11 210.75 66.46 211 62.72 211.25 67.11 211.5 63.21 211.75 66.61 212 62.16 212.25 67.24 212.5 61.86 212.75 65.48 213 62.39 213.25 65.84 213.5 63.29 213.75 66.52 214 62.82 214.25 66.91 214.5 61.93 214.75 65.98 215 62.25 215.25 67.09 215.5 62.17 215.75 67.42 216 61.74 216.25 66.01 216.5 63.15 216.75 68 217 62.29 217.25 66.69 217.5 63.28 217.75 65.59 218 62.54 218.25 65.78 218.5 63.23 218.75 66.55 219 63.28 219.25 66.92 219.5 62.14 219.75 66.75 220 63.2 220.25 66.65 220.5 62.64 220.75 66.13 221 63.12 221.25 65.65 221.5 63.54 221.75 66.39 222 63.28 222.25 65.99 222.5 63.55 222.75 66.58 223 62.84 223.25 67.28 223.5 62.99 223.75 69.47 224 62.34 224.25 68.28 224.5 62.24 224.75 66.48 225 61.92 225.25 66.1 225.5 60.99 225.75 68.13 226 61.75 226.25 66.75 226.5 61.46 226.75 68.9 227 60.64 227.25 67.6 227.5 61.73 227.75 68.94 228 61.7 228.25 66.88 228.5 61.48 228.75 67.62 229 61.79 229.25 68.52 229.5 60.79 229.75 68.59 230 62.89 230.25 67.51 230.5 62.68 230.75 66.72 231 61.26 231.25 68.1 231.5 62.51 231.75 68.12 232 61.23 232.25 67.24 232.5 62.05 232.75 68.92 233 62.07 233.25 67.56 233.5 62.12 233.75 67.12 234 61.95 234.25 68.12 234.5 63.11 234.75 66.79 235 63.09 235.25 66.22 235.5 62.82 235.75 66.36 236 63.28 236.25 65.73 236.5 61.92 236.75 67.62 237 62.83 237.25 66.42 237.5 62.9 237.75 66.97 238 63.19 238.25 66.45 238.5 61.64 238.75 67.28 239 60.5 239.25 67.22 239.5 61.55 239.75 67.44 240 62.71 240.25 66.06 240.5 61.59 240.75 68.18 241 61.23 241.25 67.21 241.5 61.65 241.75 67.66 242 62.36 242.25 66.35 242.5 62.56 242.75 68.1 243 60.34 243.25 68.6 243.5 62.51 243.75 67.02 244 61.09 244.25 66.95 244.5 62.41 244.75 66.31 245 62.78 245.25 65.98 245.5 62.48 245.75 66.26 246 61.68 246.25 68.41 246.5 61.1 246.75 68.52 247 61.13 247.25 68.46 247.5 60.19 247.75 68.29 248 62.4 248.25 67.33 248.5 63.24 248.75 66.96 249 62.97 249.25 67.83 249.5 61.15 249.75 67.93 250 63.06 250.25 68 250.5 61.74 250.75 66.94 251 61.71 251.25 67.04 251.5 62.62 251.75 68.23 252 62.13 252.25 67.39 252.5 61.85 252.75 67.4 253 62.33 253.25 68.68 253.5 62.41 253.75 67.95 254 60.69 254.25 68.18 254.5 61.29 254.75 68.31 255 62.75 255.25 66.68 255.5 61.03 255.75 68.6 256 61.63 256.25 68.51 256.5 61.72 256.75 66.16 257 62.65 257.25 66.61 257.5 61.65 257.75 67.57 258 60.8 258.25 68.09 258.5 62.29 258.75 67.11 259 63.06 259.25 67.95 259.5 61.82 259.75 66.92 260 62.89 260.25 67.82 260.5 61.38 260.75 66.45 261 63.48 261.25 67.11 261.5 63.16 261.75 67.05 262 61.81 262.25 65.82 262.5 62.6 262.75 67.47 263 61.7 263.25 66 263.5 63.07 263.75 67.42 264 61.94 264.25 66.34 264.5 61.23 264.75 68.1 265 62.9 265.25 67.14 265.5 61.88 265.75 68.09 266 61.22 266.25 66.86 266.5 61.48 266.75 68.27 267 61.93 267.25 66.96 267.5 61 267.75 67.88 268 60.82 268.25 67.35 268.5 61.27 268.75 68.34 269 61.91 269.25 66.99 269.5 62.86 269.75 67.48 270 62.64 270.25 67.29 270.5 62.56 270.75 66.17 271 63.2 271.25 66.77 271.5 62.82 271.75 66.06 272 62.94 272.25 67.25 272.5 62.81 272.75 66.59 273 60.11 273.25 69.07 273.5 62.18 273.75 66.87 274 60.58 274.25 69.34 274.5 61.42 274.75 67.52 275 61.44 275.25 68.51 275.5 60.08 275.75 68.17 276 60.58 276.25 66.75 276.5 61.61 276.75 66.27 277 61.12 277.25 68.45 277.5 60.85 277.75 68.44 278 62.22 278.25 67.18 278.5 61.81 278.75 66.57 279 62.91 279.25 67.69 279.5 61.5 279.75 66.79 280 62.1 280.25 69 280.5 61.09 280.75 67.34 281 60.54 281.25 67.09 281.5 61.61 281.75 68.33 282 60.36 282.25 66.56 282.5 60.99 282.75 68.74 283 60.55 283.25 67.78 283.5 61.11 283.75 68.49 284 60.35 284.25 68.25 284.5 62.05 284.75 67.94 285 61.8 285.25 68.47 285.5 60.7 285.75 67.16 286 61.78 286.25 67.42 286.5 60.83 286.75 68.59 287 60.56 287.25 67.96 287.5 62.15 287.75 69.03 288 61.14 288.25 68.63 288.5 62.57 288.75 68.46 289 61.43 289.25 66.81 289.5 60.58 289.75 69.92 290 61.94 290.25 66.82 290.5 61.75 290.75 67.44 291 60.44 291.25 68.9 291.5 62.32 291.75 66.15 292 61.68 292.25 66.85 292.5 62.59 292.75 67.25 293 61.52 293.25 66.29 293.5 62.69 293.75 67.16 294 62.24 294.25 65.49 294.5 63.37 294.75 67 295 62.62 295.25 66.52 295.5 62.91 295.75 67.76 296 63.08 296.25 67.63 296.5 62.65 296.75 68.45 297 62.01 297.25 66.94 297.5 60.81 297.75 67.26 298 61.96 298.25 67.57 298.5 60.63 298.75 67.87 299 62.72 299.25 66.76 299.5 61.61 299.75 67.28 300 62.62 300.25 66.31 300.5 63.51 300.75 65.47 301 63.04 301.25 66.24 301.5 62.88 301.75 66.49 302 62.3 302.25 66.9 302.5 62.27 302.75 67.08 303 62.59 303.25 68.37 303.5 63.42 303.75 66.77 304 62.34 304.25 67.36 304.5 61.64 304.75 68.11 305 62.82 305.25 66.02 305.5 62.6 305.75 67.64 306 62.74 306.25 67.17 306.5 62.39 306.75 66.97 307 62.76 307.25 68.6 307.5 62.16 307.75 69.4 308 62.59 308.25 68.39 308.5 61.4 308.75 66.91 309 60.28 309.25 67.13 309.5 61.37 309.75 69.02 310 61.11 310.25 67.11 310.5 62.21 310.75 67.64 311 62.41 311.25 68.98 311.5 62.15 311.75 68.74 312 61.74 312.25 66.33 312.5 63.05 312.75 67.8 313 62.78 313.25 67.23 313.5 60.58 313.75 67.5 314 62.74 314.25 68.06 314.5 61.73 314.75 67.17 315 61.57 315.25 67.02 315.5 62.35 315.75 68.69 316 61.71 316.25 67.29 316.5 61.06 316.75 68.91 317 61.45 317.25 67.25 317.5 61.79 317.75 66.74 318 60.96 318.25 68.08 318.5 60 318.75 67.87 319 60.72 319.25 69.31 319.5 61.89 319.75 68.71 320 62.32 320.25 68.04 320.5 60.06 320.75 68.6 321 62.4 321.25 67.18 321.5 62.23 321.75 68.97 322 62.28 322.25 69.03 322.5 61.66 322.75 67.73 323 61.91 323.25 67.03 323.5 63.05 323.75 67.29 324 62.14 324.25 65.84 324.5 63.16 324.75 65.98 325 61.71 325.25 66.58 325.5 62.76 325.75 67.28 326 62.12 326.25 66.84 326.5 62.8 326.75 66.83 327 61.99 327.25 65.59 327.5 62.96 327.75 67.17 328 62.59 328.25 65.92 328.5 60.58 328.75 68.04 329 62.02 329.25 66.41 329.5 61.57 329.75 66.3 330 62.46 330.25 66.68 330.5 62.69 330.75 66.55 331 62.42 331.25 67.38 331.5 63.18 331.75 66.22 332 62.52 332.25 67.01 332.5 62.48 332.75 66.51 333 61.86 333.25 65.75 333.5 62.6 333.75 66.18 334 62.82 334.25 67.03 334.5 63.21 334.75 67.15 335 62.4 335.25 67.08 335.5 62.45 335.75 66.51 336 62.99 336.25 66.81 336.5 63.51 336.75 66.14 337 62.14 337.25 66.93 337.5 62.38 337.75 67.06 338 62.49 338.25 66.68 338.5 62.38 338.75 67.27 339 62.48 339.25 67.73 339.5 60.77 339.75 68.59 340 60.88 340.25 68.53 340.5 60.1 340.75 67.28 341 62.77 341.25 67.12 341.5 62.6 341.75 65.91 342 60.85 342.25 67.3 342.5 61.66 342.75 67.24 343 62.69 343.25 66.64 343.5 62.4 343.75 66.54 344 61.63 344.25 67.55 344.5 61.99 344.75 66.99 345 62.72 345.25 67.74 345.5 63.17 345.75 66.84 346 62.75 346.25 66.78 346.5 63.36 346.75 66.82 347 62.41 347.25 66.16 347.5 61.76 347.75 66.52 348 61.75 348.25 68.16 348.5 61.45 348.75 67.11 349 61.94 349.25 67.42 349.5 62.71 349.75 67.63 350 61.73 350.25 66.93 350.5 62.65 350.75 67.1 351 61.96 351.25 68.27 351.5 63.15 351.75 67.35 352 61.89 352.25 67.61 352.5 62.62 352.75 67.03 353 62.1 353.25 66.76 353.5 62.15 353.75 66.51 354 61.66 354.25 67.85 354.5 61.3 354.75 67.99 355 62.57 355.25 66.97 355.5 62.38 355.75 66.28 356 61.32 356.25 67.85 356.5 62.03 356.75 67.34 357 63.02 357.25 66.13 357.5 62.76 357.75 66.7 358 62.86 358.25 67.08 358.5 62.31 358.75 67.09 359 63.3 359.25 66.38 359.5 62.28 359.75 67.3 360 61.42 360.25 67.42 360.5 61.41 360.75 67.19 361 61.27 361.25 67.86 361.5 62.4 361.75 66.88 362 62.23 362.25 67.14 362.5 62.08 362.75 66.5 363 63.36 363.25 66.82 363.5 62.84 363.75 68.12 364 62.2 364.25 67.04 364.5 61.37 364.75 67.6 365 61.56 365.25 66.49 365.5 61.24 365.75 67.61 366 61.32 366.25 65.87 366.5 62 366.75 67.66 367 62.39 367.25 66.93 367.5 61.46 367.75 66.84 368 61.25 368.25 66.72 368.5 61.36 368.75 67.07 369 61.71 369.25 67.87 369.5 62.58 369.75 65.59 370 63.54 370.25 66.36 370.5 62.7 370.75 66.43 371 62.6 371.25 66.15 371.5 62.96 371.75 66.67 372 63.27 372.25 67.29 372.5 61.95 372.75 68.2 373 62.32 373.25 67.17 373.5 62.54 373.75 65.63 374 62.08 374.25 66.76 374.5 61.71 374.75 67.67 375 61.25 375.25 68.91 375.5 62.14 375.75 66.39 376 62.67 376.25 66.06 376.5 63.55 376.75 66.55 377 62.5 377.25 67.28 377.5 62.58 377.75 66.84 378 62.54 378.25 67.01 378.5 62.95 378.75 66.1 379 62.27 379.25 66.22 379.5 62.12 379.75 66.48 380 61.27 380.25 67.4 380.5 61.62 380.75 65.99 381 62.4 381.25 67.17 381.5 62.34 381.75 66.93 382 62.5 382.25 66.14 382.5 62.56 382.75 66.09 383 62.6 383.25 68.1 383.5 62.43 383.75 66.27 384 62.97 384.25 66.45 384.5 62.24 384.75 66.41 385 62.46 385.25 66.67 385.5 62.69 385.75 65.83 386 63.31 386.25 67.89 386.5 61.6 386.75 69.58 387 63.2 387.25 65.95 387.5 62.26 387.75 67.7 388 61.62 388.25 67.89 388.5 61.25 388.75 66.72 389 62.11 389.25 66.78 389.5 63.33 389.75 66.05 390 62.59 390.25 66.77 390.5 62.99 390.75 68.1 391 63.01 391.25 65.66 391.5 62.97 391.75 66.82 392 62.93 392.25 66.18 392.5 62.85 392.75 66.14 393 63.39 393.25 66.57 393.5 62.97 393.75 65.47 394 63.44 394.25 66.36 394.5 62.02 394.75 67.58 395 61.62 395.25 66.77 395.5 62.52 395.75 67.01 396 62.62 396.25 68.23 396.5 61.54 396.75 68.96 397 62.72 397.25 67.99 397.5 62.05 397.75 66.54 398 61.09 398.25 67.24 398.5 61.51 398.75 68.39 399 61.94 399.25 67.31 399.5 63.21 399.75 67.45 400 62.09 400.25 66.67 400.5 63.15 400.75 66.01 401 62.99 401.25 66.4 401.5 63.55 401.75 66.67 402 62.26 402.25 66.4 402.5 61.98 402.75 67.41 403 62.72 403.25 66.96 403.5 62.39 403.75 66.97 404 62.16 404.25 65.88 404.5 62.89 404.75 66.67 405 61.77 405.25 67.37 405.5 62.64 405.75 66.63 406 61.98 406.25 67.96 406.5 62.93 406.75 66.68 407 62.29 407.25 65.87 407.5 60.92 407.75 67.5 408 61.22 408.25 66.69 408.5 63.03 408.75 66.22 409 62.58 409.25 66.55 409.5 63.51 409.75 66.67 410 62.79 410.25 65.8 410.5 62.92 410.75 66.03 411 62.9 411.25 65.72 411.5 62.37 411.75 65.8 412 62.96 412.25 66.67 412.5 62.29 412.75 67.26 413 63.48 413.25 66.63 413.5 62.8 413.75 67.02 414 62.09 414.25 66.88 414.5 62.61 414.75 67.03 415 62.11 415.25 65.92 415.5 62 415.75 65.82 416 62.53 416.25 67.14 416.5 62.52 416.75 67.73 417 61.61 417.25 66.23 417.5 60.98 417.75 67.84 418 61.08 418.25 67.26 418.5 62.34 418.75 66.31 419 63.1 419.25 65.68 419.5 62.63 419.75 66.72 420 63.2 420.25 65.91 420.5 62.83 420.75 65.25 421 62.9 421.25 67.19 421.5 62.45 421.75 67.16 422 63.1 422.25 66.63 422.5 62.24 422.75 65.71 423 61.92 423.25 65.91 423.5 61.8 423.75 67.12 424 62.97 424.25 66.24 424.5 62.62 424.75 65.88 425 62.87 425.25 65.48 425.5 62.89 425.75 65.86 426 63.49 426.25 66.99 426.5 63.39 426.75 65.54 427 63.17 427.25 67.09 427.5 62.32 427.75 66.59 428 61.97 428.25 66.93 428.5 62.45 428.75 65.92 429 62.87 429.25 66.3 429.5 63.9 429.75 66.03 430 63.25 430.25 66.26 430.5 62.98 430.75 66.3 431 62.74 431.25 66.49 431.5 63.27 431.75 66.56 432 62.68 432.25 66.79 432.5 63.35 432.75 65.87 433 63.3 433.25 67.32 433.5 63.22 433.75 66.23 434 62.54 434.25 67.26 434.5 62.85 434.75 66.18 435 62.78 435.25 66.47 435.5 62.69 435.75 66.59 436 62.78 436.25 65.54 436.5 62.09 436.75 65.74 437 62.73 437.25 67.33 437.5 62.75 437.75 66.59 438 61.79 438.25 67.6 438.5 63.09 438.75 66.02 439 61.14 439.25 67.8 439.5 62.58 439.75 67.02 440 61.81 440.25 68.23 440.5 60.56 440.75 67.05 441 62.79 441.25 66.98 441.5 61.54 441.75 68.42 442 60.92 442.25 67.87 442.5 61.6 442.75 66.47 443 63.08 443.25 67.33 443.5 61.45 443.75 67.43 444 62.37 444.25 68.18 444.5 63.34 444.75 66.02 445 62.95 445.25 67.21 445.5 62.88 445.75 67.1 446 62.78 446.25 67.1 446.5 62.73 446.75 66.6 447 62.25 447.25 67.2 447.5 61.56 447.75 67.54 448 62.78 448.25 66.53 448.5 61.6 448.75 67.2 449 63.32 449.25 65.52 449.5 62.43 449.75 66.33 450 61.99 450.25 66.62 450.5 62.01 450.75 67.64 451 62.01 451.25 66.55 451.5 62.27 451.75 66.75 452 62.4 452.25 65.69 452.5 62.97 452.75 66.62 453 63.03 453.25 67.08 453.5 62.63 453.75 66.78 454 62.44 454.25 66.84 454.5 62.72 454.75 65.65 455 62.65 455.25 66.98 455.5 61.1 455.75 65.79 456 62.22 456.25 67.98 456.5 62.03 456.75 67.69 457 61.52 457.25 67 457.5 63 457.75 66.29 458 62.49 458.25 65.91 458.5 62.79 458.75 66.82 459 62.69 459.25 65.88 459.5 61.66 459.75 66.76 460 62.5 460.25 67.5 460.5 61.58 460.75 67.74 461 62.01 461.25 66.99 461.5 62.95 461.75 65.88 462 62.23 462.25 67.21 462.5 62.62 462.75 67.69 463 61.98 463.25 67.63 463.5 61.31 463.75 66.28 464 63.04 464.25 65.59 464.5 63.12 464.75 65.85 465 61.95 465.25 66.78 465.5 62.06 465.75 68.46 466 62.15 466.25 66.56 466.5 62.85 466.75 67.61 467 61.78 467.25 68.1 467.5 62.48 467.75 67.01 468 61.56 468.25 67.14 468.5 62.07 468.75 65.9 469 61.95 469.25 67.75 469.5 62.59 469.75 66.04 470 62.75 470.25 66.98 470.5 61.99 470.75 67.19 471 61.75 471.25 67.47 471.5 62 471.75 66.32 472 61.35 472.25 68.01 472.5 62.52 472.75 66.92 473 61.12 473.25 67 473.5 63.43 473.75 65.95 474 63.63 474.25 65.98 474.5 62.84 474.75 66.08 475 62.97 475.25 66.17 475.5 62.67 475.75 66.63 476 62.43 476.25 66.15 476.5 63.16 476.75 66.89 477 61.89 477.25 66.65 477.5 62.12 477.75 67.08 478 62.39 478.25 67.13 478.5 61.85 478.75 67.93 479 61.2 479.25 66.32 479.5 61.76 479.75 68.04 480 62.7 480.25 65.87 480.5 62.85 480.75 65.8 481 62.48 481.25 67.32 481.5 63.1 481.75 65.9 482 62.41 482.25 66.79 482.5 62.68 482.75 66.84 483 62.67 483.25 66.66 483.5 62.8 483.75 66.7 484 62.58 484.25 67.2 484.5 62.65 484.75 68.24 485 60.64 485.25 68.41 485.5 60.91 485.75 67.24 486 61.62 486.25 66.33 486.5 62.23 486.75 66.04 487 63.17 487.25 67.25 487.5 62.15 487.75 67.19 488 62.46 488.25 68.16 488.5 62.1 488.75 66.26 489 62.22 489.25 65.56 489.5 62.26 489.75 66.55 490 62.53 490.25 66.36 490.5 62.91 490.75 67.2 491 62.35 491.25 66.97 491.5 63.37 491.75 67.22 492 61.4 492.25 67.91 492.5 62.06 492.75 67.53 493 62.19 493.25 67.31 493.5 61.48 493.75 68 494 62.27 494.25 69.28 494.5 61.51" class="sr" stroke-dasharray="3 3"/>
<path d="M59.5 59.5V72.35M77.2 58.96V73.52M86.9 59.98V71.31M88.5 60.58V70.66M90 59.98V71.31M91.5 60.58V70.01M98.7 60.58V69.04M103.2 56.38V71.83M106 61.18V69.04M111.2 57.46V76.25M115.5 55.42V74.56M121.8 58.78V72.94M136.8 53.38V75.21M143.2 57.94V75.21M147.8 53.38V75.73M151.3 58.78V76.25M161.6 59.5V72.35M165 57.94V77.62M173 60.52V68.06M196 61.78V70.66M201.7 59.5V70.14M204.8 61.18V70.66M207.7 60.58V75.73M209 59.98V77.16M210.8 56.38V79.11M216.5 54.28V81.71M218.3 58.78V82.75M228.1 58.48V73.52M231.5 59.62V66.76M265.6 58.66V73M333.6 59.62V70.01M366 61.78V69.36M384.2 59.62V70.53M396 61.78V73M403.6 61.78V70.01M487.1 61.78V70.01M491.7 61.78V69.56M297 61.78V69.69M302 61.18V69.04M311 61.78V69.36M322 61.78V68.71M357.5 61.18V70.01M372 61.78V68.71M246 60.58V68.71M280 61.18V69.04M443 62.38V67.74M468 62.38V68.39M414 61.78V68.06" class="skr"/>
<path d="M111.2 64.46V82.6M115.5 64.46V80M136.8 64.46V81M143.2 64.46V81M147.8 64.46V81.8M151.3 64.46V82.6M165 64.46V84.7M207.7 64.46V81.8M209 64.46V84M210.8 64.46V87M216.5 64.46V91M218.3 64.46V92.6" class="skr" stroke-dasharray="3.5 2.5"/>
<path d="M100.3 16.8V101.5" stroke="#000" stroke-width="1.8" fill="none"/>
<path d="M100.3 26V64.46" stroke="#f00" stroke-width="1.1" fill="none"/>
<path d="M100.3 64.46V101.5" stroke="#f00" stroke-width="1.5" fill="none" stroke-dasharray="3.5 3"/>
<path d="M221.6 33.8V82.6" stroke="#000" stroke-width="1.3" fill="none"/>
<path d="M221.6 42V64.46" stroke="#f00" stroke-width="1.1" fill="none"/>
<path d="M221.6 64.46V82.6" stroke="#f00" stroke-width="1.5" fill="none" stroke-dasharray="3.5 3"/>
<circle cx="59.5" cy="54.6" r="1.65" class="hit" stroke-width="1.15"/>
<circle cx="98.2" cy="54.6" r="1.65" class="hit" stroke-width="1.15"/>
<circle cx="100.3" cy="54.6" r="1.65" class="hit" stroke-width="1.15"/>
<circle cx="102.4" cy="54.6" r="1.65" class="hit" stroke-width="1.15"/>
<circle cx="115.5" cy="54.6" r="1.65" class="hit" stroke-width="1.15"/>
<circle cx="121.7" cy="54.6" r="1.65" class="hit" stroke-width="1.15"/>
<circle cx="136.8" cy="54.6" r="1.65" class="hit" stroke-width="1.15"/>
<circle cx="147.8" cy="54.6" r="1.65" class="hit" stroke-width="1.15"/>
<circle cx="151.3" cy="54.6" r="1.65" class="hit" stroke-width="1.15"/>
<circle cx="210.6" cy="54.6" r="1.65" class="hit" stroke-width="1.15"/>
<circle cx="216.4" cy="54.6" r="1.65" class="hit" stroke-width="1.15"/>
<circle cx="218.2" cy="54.6" r="1.65" class="hit" stroke-width="1.15"/>
<circle cx="222" cy="54.6" r="1.65" class="hit" stroke-width="1.15"/>
<path d="M40.5 101.5v-5.2M40.5 8.9v5.2M85.91 101.5v-5.2M85.91 8.9v5.2M131.32 101.5v-5.2M131.32 8.9v5.2M176.73 101.5v-5.2M176.73 8.9v5.2M222.14 101.5v-5.2M222.14 8.9v5.2M267.55 101.5v-5.2M267.55 8.9v5.2M312.96 101.5v-5.2M312.96 8.9v5.2M358.37 101.5v-5.2M358.37 8.9v5.2M403.78 101.5v-5.2M403.78 8.9v5.2M449.19 101.5v-5.2M449.19 8.9v5.2M494.6 101.5v-5.2M494.6 8.9v5.2M40.5 101.5h5.2M494.6 101.5h-5.2M40.5 82.98h5.2M494.6 82.98h-5.2M40.5 64.46h5.2M494.6 64.46h-5.2M40.5 45.94h5.2M494.6 45.94h-5.2M40.5 27.42h5.2M494.6 27.42h-5.2M40.5 8.9h5.2M494.6 8.9h-5.2" class="tk"/>
<rect x="40.5" y="8.9" width="454.1" height="92.6" class="ax"/>
<text x="36.9" y="12.2" class="tl" text-anchor="end">300</text>
<text x="36.9" y="30.72" class="tl" text-anchor="end">200</text>
<text x="36.9" y="49.24" class="tl" text-anchor="end">100</text>
<text x="35.2" y="67.76" class="tl" text-anchor="end">0</text>
<text x="39.5" y="86.28" class="tl" text-anchor="end">−100</text>
<text x="39.5" y="104.8" class="tl" text-anchor="end">−200</text>
<text x="40.5" y="111.3" class="tl" text-anchor="middle">0</text>
<text x="85.91" y="111.3" class="tl" text-anchor="middle">1</text>
<text x="131.32" y="111.3" class="tl" text-anchor="middle">2</text>
<text x="176.73" y="111.3" class="tl" text-anchor="middle">3</text>
<text x="222.14" y="111.3" class="tl" text-anchor="middle">4</text>
<text x="267.55" y="111.3" class="tl" text-anchor="middle">5</text>
<text x="312.96" y="111.3" class="tl" text-anchor="middle">6</text>
<text x="358.37" y="111.3" class="tl" text-anchor="middle">7</text>
<text x="403.78" y="111.3" class="tl" text-anchor="middle">8</text>
<text x="449.19" y="111.3" class="tl" text-anchor="middle">9</text>
<text x="494.9" y="111.3" class="tl" text-anchor="middle">10</text>
<text x="272.8" y="120.5" class="lb" text-anchor="middle">Sample</text>
<text transform="translate(15.4 49.8) rotate(-90)" class="lb" text-anchor="middle">Amplitude</text>
<text x="477.2" y="123.6" class="tl">x 10</text><text x="495" y="117.6" class="sup">5</text>
<rect x="499.5" y="14.5" width="45" height="31" fill="#fff" stroke="#8a8a8a" stroke-width="1"/>
<path d="M502.4 20.3H520.1" stroke="#000" stroke-width="1.4"/>
<path d="M502.4 30.2H520.1" stroke="#f00" stroke-width="1.4" stroke-dasharray="4 2.85"/>
<circle cx="511.4" cy="39.5" r="1.8" fill="none" stroke="#00f" stroke-width="1.3"/>
<text x="522.2" y="23" class="lg">Signal</text>
<text x="522.2" y="32.7" class="lg">Filters</text>
<text x="522.2" y="42.7" class="lg">Hit</text>
<path d="M138.55 137.5V229.5M40.5 160.5H236.6M40.5 183.5H236.6M40.5 206.5H236.6" class="g2"/>
<path d="M40.5 181.55 40.8 184.98 41.1 182.36 41.4 184.94 41.7 182.65 42 185.15 42.3 182.21 42.6 185.39 42.9 181.84 43.2 184.7 43.5 181.99 43.8 185.88 44.1 182.57 44.4 184.68 44.7 180.22 45 184.3 45.3 181.76 45.6 188.06 45.9 181.34 46.2 185.26 46.5 182.42 46.8 185 47.1 182.44 47.4 184.78 47.7 182.24 48 184.67 48.3 182.32 48.6 187.17 48.9 179.28 49.2 186.32 49.5 180.55 49.8 190.96 50.1 177.61 50.4 187.71 50.7 179.37 51 188.82 51.3 178.64 51.6 186.08 51.9 180.69 52.2 190.16 52.5 181.35 52.8 186.28 53.1 176.49 53.4 188.18 53.7 181.33 54 185.58 54.3 182.21 54.6 185.56 54.9 181.23 55.2 185.17 55.5 182.04 55.8 184.71 56.1 182.09 56.4 184.54 56.7 182.08 57 185.37 57.3 182.68 57.6 184.71 57.9 181.9 58.2 184.43 58.5 182.19 58.8 184.94 59.1 181.62 59.4 185.68 59.7 180.47 60 184.84 60.3 182.26 60.6 186.65 60.9 180.94 61.2 187.05 61.5 179.17 61.8 190.73 62.1 181 62.4 187.5 62.7 181.52 63 185.88 63.3 182.05 63.6 185.69 63.9 181.52 64.2 185.67 64.5 181.98 64.8 185.96 65.1 181.67 65.4 184.96 65.7 182.43 66 185.88 66.3 181.57 66.6 185.17 66.9 181.41 67.2 185.51 67.5 182.01 67.8 186.04 68.1 181.13 68.4 185.77 68.7 181.5 69 185.72 69.3 181.23 69.6 185.35 69.9 181.93 70.2 185.81 70.5 181.69 70.8 188.47 71.1 180.83 71.4 186.18 71.7 180.96 72 185.85 72.3 180.59 72.6 186.06 72.9 179.97 73.2 187.63 73.5 179.92 73.8 187.13 74.1 180.66 74.4 185.25 74.7 181.42 75 185.03 75.3 181.97 75.6 184.57 75.9 182.06 76.2 184.98 76.5 181.91 76.8 184.48 77.1 181.77 77.4 186.63 77.7 182.37 78 184.62 78.3 181.62 78.6 184.8 78.9 181.8 79.2 188.18 79.5 178.91 79.8 188.62 80.1 177.41 80.4 186.06 80.7 178.72 81 186.74 81.3 181.12 81.6 190.32 81.9 181.8 82.2 188.34 82.5 180.1 82.8 186.26 83.1 181.02 83.4 188.47 83.7 181.25 84 186.2 84.3 180.72 84.6 185.69 84.9 181.11 85.2 184.86 85.5 181.73 85.8 186.98 86.1 181.15 86.4 186.19 86.7 180.9 87 185.81 87.3 176.4 87.6 188.62 87.9 180.5 88.2 185.66 88.5 180.92 88.8 185.46 89.1 181.64 89.4 185.48 89.7 179.42 90 188.39 90.3 178.68 90.6 187.81 90.9 179.57 91.2 189.65 91.5 177.77 91.8 189.39 92.1 176.27 92.4 188.36 92.7 175.43 93 189.1 93.3 178.06 93.6 189.62 93.9 178.62 94.2 187.28 94.5 179.81 94.8 187.47 95.1 178.49 95.4 188.26 95.7 176.8 96 190.7 96.3 181.06 96.6 186.23 96.9 180.18 97.2 191.78 97.5 178.48 97.8 188.3 98.1 179.79 98.4 187.42 98.7 180.03 99 187.06 99.3 178.17 99.6 187.28 99.9 178.85 100.2 185.31 100.5 181.38 100.8 187.4 101.1 179.51 101.4 186.14 101.7 176.2 102 187.22 102.3 178.9 102.6 190.6 102.9 179.27 103.2 189.02 103.5 179.74 103.8 186.19 104.1 180.97 104.4 185.22 104.7 179.27 105 186.69 105.3 181.25 105.6 186.19 105.9 181.26 106.2 185.59 106.5 181.2 106.8 186.55 107.1 180.26 107.4 186.22 107.7 181.25 108 186.65 108.3 181.46 108.6 185.18 108.9 181.15 109.2 185.35 109.5 181.87 109.8 185.9 110.1 181.84 110.4 184.81 110.7 182.48 111 186.57 111.3 181.13 111.6 185.95 111.9 182.41 112.2 184.19 112.5 181.64 112.8 184.86 113.1 182.56 113.4 185.91 113.7 182.51 114 185.65 114.3 182.82 114.6 185.22 114.9 181.22 115.2 187.45 115.5 181.44 115.8 186 116.1 180.81 116.4 185.33 116.7 181.58 117 186.27 117.3 181.76 117.6 186.14 117.9 181.14 118.2 185.54 118.5 181 118.8 184.78 119.1 182.19 119.4 185.29 119.7 182.52 120 184.88 120.3 180.9 120.6 185.23 120.9 181.91 121.2 185.81 121.5 182.28 121.8 188.96 122.1 181.03 122.4 187.59 122.7 180.87 123 187.89 123.3 178.44 123.6 188.24 123.9 180.81 124.2 188.94 124.5 179.4 124.8 191.66 125.1 177.48 125.4 189.27 125.7 180.48 126 186.01 126.3 178.96 126.6 191.29 126.9 181.14 127.2 187.18 127.5 180.32 127.8 187.11 128.1 180.45 128.4 186.53 128.7 180.7 129 187.5 129.3 181.29 129.6 186.04 129.9 181.35 130.2 186.42 130.5 181.44 130.8 186.64 131.1 179.72 131.4 187.17 131.7 179.6 132 189.48 132.3 179.93 132.6 188.23 132.9 179.74 133.2 186.33 133.5 179.78 133.8 185.23 134.1 181.53 134.4 190.82 134.7 181.36 135 185.11 135.3 180.85 135.6 184.99 135.9 181.91 136.2 187.16 136.5 181.27 136.8 185.82 137.1 181.21 137.4 185.84 137.7 182.05 138 185.42 138.3 180.85 138.6 185.99 138.9 181.84 139.2 191.3 139.5 181.24 139.8 187.29 140.1 180 140.4 185.56 140.7 180.54 141 187.52 141.3 178.35 141.6 187.51 141.9 180.99 142.2 186.6 142.5 181.19 142.8 185.75 143.1 181.68 143.4 187.29 143.7 179.96 144 186.82 144.3 178.56 144.6 186.47 144.9 180.95 145.2 188 145.5 178.58 145.8 188 146.1 181.49 146.4 186.7 146.7 181.12 147 188.01 147.3 180.77 147.6 186.82 147.9 178.76 148.2 186.95 148.5 178.81 148.8 186.97 149.1 179.92 149.4 188.72 149.7 181.9 150 187.55 150.3 179 150.6 186.87 150.9 179.6 151.2 189.25 151.5 180.94 151.8 187.08 152.1 180.65 152.4 188.39 152.7 178.26 153 187.63 153.3 180.65 153.6 189.04 153.9 179.89 154.2 186.94 154.5 181.5 154.8 187.02 155.1 178.47 155.4 188.08 155.7 178.36 156 185.99 156.3 179.69 156.6 185.24 156.9 181.03 157.2 185.88 157.5 180.49 157.8 185.75 158.1 181.56 158.4 185.37 158.7 181.08 159 190.93 159.3 180.95 159.6 185.08 159.9 179.79 160.2 186.16 160.5 180.34 160.8 187.54 161.1 180.65 161.4 187 161.7 181.87 162 188.03 162.3 180.68 162.6 186.5 162.9 181.57 163.2 186.15 163.5 178.78 163.8 185.87 164.1 180.66 164.4 189.58 164.7 180.86 165 187.77 165.3 177.58 165.6 186.9 165.9 179.41 166.2 187.17 166.5 179.22 166.8 188.46 167.1 180.32 167.4 187.93 167.7 181.67 168 190.56 168.3 179.7 168.6 185.38 168.9 176.33 169.2 186.55 169.5 179.05 169.8 188.2 170.1 177.87 170.4 186.25 170.7 181.6 171 188.8 171.3 180.29 171.6 186.4 171.9 179.9 172.2 188.29 172.5 180.93 172.8 186.67 173.1 178.97 173.4 187.07 173.7 179.43 174 186.18 174.3 179.7 174.6 186.19 174.9 179.54 175.2 186.79 175.5 179.61 175.8 187.01 176.1 176.1 176.4 188.23 176.7 179.19 177 188.36 177.3 179.06 177.6 188.55 177.9 180.2 178.2 187.53 178.5 181.1 178.8 190.93 179.1 178.76 179.4 188.34 179.7 179.52 180 187.17 180.3 178.61 180.6 186.85 180.9 181.03 181.2 188.21 181.5 179.24 181.8 188.37 182.1 180.42 182.4 188.7 182.7 179.99 183 187.42 183.3 180.77 183.6 186.6 183.9 179.72 184.2 187.71 184.5 179.67 184.8 186.74 185.1 180.9 185.4 186.65 185.7 179.97 186 187.77 186.3 181.23 186.6 188.55 186.9 181.57 187.2 187.61 187.5 180.81 187.8 187.55 188.1 179.85 188.4 186.02 188.7 180.89 189 185.72 189.3 180.28 189.6 187.8 189.9 180.84 190.2 188.12 190.5 181.16 190.8 186.73 191.1 181.08 191.4 190.42 191.7 179.53 192 188.12 192.3 176.04 192.6 185.85 192.9 177.68 193.2 192.25 193.5 180.82 193.8 185.2 194.1 181.22 194.4 187.73 194.7 181.46 195 185.68 195.3 180.76 195.6 186.89 195.9 181.16 196.2 188.4 196.5 181.21 196.8 189.12 197.1 178.57 197.4 185.74 197.7 180.57 198 185.74 198.3 180.13 198.6 186.83 198.9 179.22 199.2 194.77 199.5 179.63 199.8 188.4 200.1 178.53 200.4 185.6 200.7 181.47 201 185.19 201.3 179.27 201.6 187.34 201.9 179.5 202.2 186.16 202.5 180.98 202.8 189.23 203.1 181.3 203.4 186.28 203.7 181.26 204 188.37 204.3 180.75 204.6 186.62 204.9 180.34 205.2 185.78 205.5 176.85 205.8 190.31 206.1 178.93 206.4 194.77 206.7 180.2 207 188.14 207.3 179.93 207.6 187.09 207.9 181.66 208.2 192.25 208.5 180.02 208.8 185.25 209.1 180.04 209.4 186.61 209.7 181.38 210 189.8 210.3 180.46 210.6 188.37 210.9 178 211.2 185.66 211.5 179.78 211.8 190.79 212.1 180.46 212.4 187.51 212.7 178.21 213 186.89 213.3 176.74 213.6 187.88 213.9 179.22 214.2 187.25 214.5 181.57 214.8 187.69 215.1 181.53 215.4 184.95 215.7 179.9 216 185.85 216.3 180.22 216.6 186.37 216.9 179.5 217.2 185.51 217.5 178.64 217.8 186.48 218.1 179.92 218.4 186.9 218.7 178.75 219 186.75 219.3 180.9 219.6 185.16 219.9 182.06 220.2 186.03 220.5 180.38 220.8 186.96 221.1 180.11 221.4 186.27 221.7 180.73 222 187.73 222.3 179.64 222.6 189.82 222.9 181.24 223.2 185.94 223.5 179.8 223.8 187.09 224.1 180.7 224.4 186.25 224.7 182.09 225 190.63 225.3 179.54 225.6 187.27 225.9 180.44 226.2 188.07 226.5 179.39 226.8 186.86 227.1 174.7 227.4 188.06 227.7 179.89 228 187.8 228.3 181.59 228.6 184.77 228.9 180.2 229.2 188.69 229.5 180.99 229.8 186.23 230.1 181.24 230.4 185.19 230.7 182.35 231 185.89 231.3 181.56 231.6 188.17 231.9 180.39 232.2 186.37 232.5 181.69 232.8 185.71 233.1 180.6 233.4 185.27 233.7 180.94 234 187.71 234.3 179.68 234.6 187.08 234.9 181.65 235.2 186.48 235.5 181.27 235.8 188.87 236.1 181.27 236.4 185.43" class="sb"/>
<path d="M42 180V186M51.4 173.3V195M53 173.2V190M62.7 178V189.4M65.6 179V188M73.1 178V187.5M78.8 172.3V205M80.7 176V196M88.9 175V200.7M91.5 168.5V209.6M95 173.3V203.6M96.8 168.4V205M122 178V192.6M129 178V191.7M131.6 178V190M134.2 173.6V188M143.8 178V191.2M164.6 170.4V200.7M177 178V192.2M180.7 173.3V192.2M184 175.2V191.2" class="sk"/>
<path d="M40.5 182.15 40.8 184.53 41.1 182.72 41.4 184.6 41.7 182.87 42 184.69 42.3 182.52 42.6 184.49 42.9 182.34 43.2 184.29 43.5 182.41 43.8 184.77 44.1 182.79 44.4 184.43 44.7 181.8 45 184.11 45.3 182.2 45.6 185.62 45.9 182.24 46.2 184.64 46.5 182.71 46.8 184.68 47.1 182.67 47.4 184.34 47.7 182.63 48 184.41 48.3 182.62 48.6 185.45 48.9 181.06 49.2 185.14 49.5 181.31 49.8 187.11 50.1 179.68 50.4 186.16 50.7 180.57 51 186.89 51.3 180.13 51.6 185.39 51.9 181.5 52.2 187.07 52.5 182.02 52.8 185.49 53.1 179.59 53.4 186.17 53.7 181.81 54 184.88 54.3 182.6 54.6 184.92 54.9 182.04 55.2 184.38 55.5 182.41 55.8 184.26 56.1 182.49 56.4 184.28 56.7 182.46 57 184.92 57.3 182.9 57.6 184.29 57.9 182.36 58.2 184.19 58.5 182.7 58.8 184.61 59.1 182.09 59.4 184.86 59.7 181.56 60 184.56 60.3 182.51 60.6 185.09 60.9 181.67 61.2 186.28 61.5 180.95 61.8 186.7 62.1 181.63 62.4 185.68 62.7 182.06 63 184.78 63.3 182.38 63.6 185.15 63.9 182.03 64.2 185.18 64.5 182.32 64.8 185.21 65.1 182.2 65.4 184.46 65.7 182.74 66 185.33 66.3 182.08 66.6 184.73 66.9 182.09 67.2 184.96 67.5 182.32 67.8 185.26 68.1 181.62 68.4 185.08 68.7 181.91 69 185.26 69.3 181.85 69.6 184.65 69.9 182.29 70.2 185.19 70.5 182.21 70.8 186.14 71.1 181.63 71.4 185.43 71.7 181.76 72 185.13 72.3 181.95 72.6 185.47 72.9 180.74 73.2 186.45 73.5 180.75 73.8 186.25 74.1 181.28 74.4 184.83 74.7 182.06 75 184.68 75.3 182.51 75.6 184.12 75.9 182.49 76.2 184.32 76.5 182.7 76.8 184.17 77.1 182.33 77.4 185.11 77.7 182.75 78 184.33 78.3 182.21 78.6 184.48 78.9 182.36 79.2 187.06 79.5 180.11 79.8 187.18 80.1 179.87 80.4 185.36 80.7 180.12 81 185.65 81.3 182.03 81.6 187.21 81.9 182.16 82.2 185.91 82.5 180.79 82.8 184.98 83.1 181.64 83.4 186.36 83.7 181.95 84 185.62 84.3 181.29 84.6 184.99 84.9 181.7 85.2 184.55 85.5 182.26 85.8 185.4 86.1 181.86 86.4 185.22 86.7 181.58 87 185.18 87.3 180 87.6 186.29 87.9 181.28 88.2 185.11 88.5 181.84 88.8 184.72 89.1 182.08 89.4 185.08 89.7 180.71 90 186.31 90.3 180.29 90.6 186.88 90.9 180.79 91.2 187.94 91.5 179.42 91.8 187.87 92.1 178.9 92.4 187 92.7 178.32 93 187.65 93.3 179.51 93.6 188.03 93.9 179.93 94.2 185.79 94.5 181.13 94.8 186.23 95.1 179.87 95.4 187.22 95.7 179.77 96 187.42 96.3 181.8 96.6 185.14 96.9 181.35 97.2 187.6 97.5 180.26 97.8 187.04 98.1 180.83 98.4 186.38 98.7 181.05 99 185.78 99.3 180.5 99.6 185.81 99.9 180.45 100.2 184.89 100.5 182.05 100.8 186.56 101.1 180.91 101.4 185.31 101.7 179.81 102 186.15 102.3 180.07 102.6 187.52 102.9 180.16 103.2 186.69 103.5 180.93 103.8 185.05 104.1 181.58 104.4 184.67 104.7 180.99 105 185.89 105.3 181.71 105.6 184.88 105.9 181.88 106.2 184.91 106.5 182.21 106.8 185.81 107.1 181.31 107.4 185.31 107.7 181.83 108 185.3 108.3 182.07 108.6 184.81 108.9 181.72 109.2 184.87 109.5 182.29 109.8 184.95 110.1 182.48 110.4 184.44 110.7 182.78 111 185.05 111.3 182.1 111.6 184.87 111.9 182.76 112.2 184.04 112.5 182.31 112.8 184.57 113.1 182.97 113.4 184.69 113.7 182.77 114 184.71 114.3 183.01 114.6 184.83 114.9 181.88 115.2 185.17 115.5 181.89 115.8 185.28 116.1 181.5 116.4 184.93 116.7 182.08 117 185.1 117.3 182.49 117.6 185.32 117.9 181.99 118.2 184.8 118.5 181.87 118.8 184.4 119.1 182.5 119.4 184.82 119.7 182.74 120 184.6 120.3 181.98 120.6 184.84 120.9 182.29 121.2 184.9 121.5 182.69 121.8 186.45 122.1 181.58 122.4 186.16 122.7 181.72 123 185.55 123.3 180 123.6 186.19 123.9 181.65 124.2 187.7 124.5 180.44 124.8 188.53 125.1 179.48 125.4 187.65 125.7 181.54 126 185.41 126.3 180.11 126.6 188.03 126.9 181.83 127.2 186.15 127.5 181.12 127.8 186.36 128.1 181.49 128.4 185.54 128.7 181.56 129 186.2 129.3 181.9 129.6 185.41 129.9 181.92 130.2 185.66 130.5 182.02 130.8 185.89 131.1 180.62 131.4 186.36 131.7 181.34 132 187.11 132.3 181.18 132.6 186.57 132.9 180.9 133.2 185.55 133.5 181.01 133.8 184.78 134.1 182.16 134.4 186.66 134.7 181.88 135 184.78 135.3 181.67 135.6 184.6 135.9 182.39 136.2 185.2 136.5 181.77 136.8 185.09 137.1 181.87 137.4 185.27 137.7 182.41 138 184.97 138.3 181.55 138.6 185.33 138.9 182.46 139.2 187.18 139.5 182.14 139.8 186.01 140.1 180.89 140.4 184.67 140.7 181.27 141 186.14 141.3 180.47 141.6 186 141.9 181.6 142.2 185.76 142.5 181.8 142.8 185.03 143.1 182.08 143.4 186.48 143.7 180.79 144 185.92 144.3 179.92 144.6 185.55 144.9 181.54 145.2 186.45 145.5 179.97 145.8 186.74 146.1 181.91 146.4 185.67 146.7 181.97 147 186.66 147.3 181.42 147.6 185.95 147.9 180.67 148.2 185.85 148.5 179.94 148.8 186.19 149.1 181.02 149.4 187.43 149.7 182.3 150 186.37 150.3 180.43 150.6 185.9 150.9 180.74 151.2 186.66 151.5 181.53 151.8 186.16 152.1 181.28 152.4 186.62 152.7 180.38 153 185.8 153.3 181.5 153.6 187.15 153.9 180.8 154.2 185.72 154.5 181.99 154.8 186.08 155.1 180.93 155.4 186.18 155.7 180.7 156 185.31 156.3 181.2 156.6 184.75 156.9 181.53 157.2 185.31 157.5 181.74 157.8 185.2 158.1 182.01 158.4 184.86 158.7 181.68 159 186.8 159.3 182.01 159.6 184.75 159.9 181.15 160.2 185.41 160.5 181.28 160.8 186.26 161.1 181.41 161.4 185.99 161.7 182.45 162 185.62 162.3 181.51 162.6 185.87 162.9 182.19 163.2 185.6 163.5 180.62 163.8 185.23 164.1 181.54 164.4 186.98 164.7 181.67 165 186.45 165.3 179.77 165.6 186.04 165.9 180.33 166.2 186.08 166.5 180.42 166.8 187.15 167.1 181.4 167.4 185.76 167.7 182.2 168 187.13 168.3 181.61 168.6 184.81 168.9 179.21 169.2 185.89 169.5 180.61 169.8 186.67 170.1 179.7 170.4 185.51 170.7 182 171 187.22 171.3 181.06 171.6 185.6 171.9 180.68 172.2 186.12 172.5 181.89 172.8 185.53 173.1 180.17 173.4 185.94 173.7 180.25 174 185.22 174.3 180.79 174.6 185.35 174.9 180.52 175.2 185.78 175.5 180.47 175.8 186 176.1 179.17 176.4 186.99 176.7 180.34 177 186.85 177.3 180.32 177.6 187.37 177.9 181 178.2 186.49 178.5 181.67 178.8 187.76 179.1 179.85 179.4 187.12 179.7 180.7 180 186.4 180.3 180.48 180.6 186.04 180.9 181.62 181.2 186.5 181.5 180.19 181.8 186.9 182.1 181.43 182.4 186.71 182.7 180.74 183 186.47 183.3 181.62 183.6 185.85 183.9 180.96 184.2 185.77 184.5 181.18 184.8 185.82 185.1 181.49 185.4 185.38 185.7 181.15 186 186.53 186.3 181.95 186.6 186.49 186.9 182.09 187.2 186.7 187.5 181.43 187.8 186.71 188.1 181.08 188.4 185.33 188.7 182.04 189 185.19 189.3 181.22 189.6 186.2 189.9 181.59 190.2 185.92 190.5 181.8 190.8 185.79 191.1 181.73 191.4 187.16 191.7 180.39 192 187.18 192.3 179.27 192.6 185 192.9 180.81 193.2 188.19 193.5 181.51 193.8 184.71 194.1 181.69 194.4 186.16 194.7 182 195 185.04 195.3 181.36 195.6 185.61 195.9 181.7 196.2 186.91 196.5 181.97 196.8 186.9 197.1 180.27 197.4 185.22 197.7 181.43 198 185.23 198.3 181.02 198.6 185.85 198.9 180.7 199.2 188.56 199.5 180.82 199.8 186.81 200.1 179.81 200.4 184.91 200.7 181.95 201 184.74 201.3 181.02 201.6 186.5 201.9 180.58 202.2 184.99 202.5 181.73 202.8 186.82 203.1 181.98 203.4 185.72 203.7 181.77 204 186.84 204.3 181.34 204.6 185.47 204.9 181.08 205.2 185.24 205.5 179.2 205.8 187.86 206.1 179.84 206.4 188.42 206.7 180.89 207 186.66 207.3 180.72 207.6 186.08 207.9 182.12 208.2 187.49 208.5 181.06 208.8 184.82 209.1 180.82 209.4 185.8 209.7 181.85 210 187.2 210.3 181.4 210.6 186.89 210.9 180.06 211.2 184.98 211.5 180.91 211.8 186.88 212.1 181.6 212.4 186.13 212.7 180.19 213 185.92 213.3 180.45 213.6 186.38 213.9 180.2 214.2 186.33 214.5 182.15 214.8 185.58 215.1 182.15 215.4 184.52 215.7 181.15 216 185.33 216.3 181.02 216.6 185.59 216.9 180.57 217.2 184.99 217.5 179.74 217.8 185.84 218.1 181.18 218.4 185.94 218.7 180.45 219 185.88 219.3 181.69 219.6 184.69 219.9 182.5 220.2 185.47 220.5 181.04 220.8 185.72 221.1 180.93 221.4 185.08 221.7 181.57 222 186.06 222.3 180.44 222.6 186.7 222.9 181.89 223.2 185.44 223.5 180.87 223.8 186.04 224.1 181.65 224.4 185.67 224.7 182.56 225 186.86 225.3 180.4 225.6 186.11 225.9 181.07 226.2 186.72 226.5 180.49 226.8 186.1 227.1 179.36 227.4 186.79 227.7 180.64 228 186.07 228.3 182.14 228.6 184.51 228.9 181.08 229.2 186.32 229.5 181.6 229.8 185.38 230.1 182.07 230.4 184.76 230.7 182.62 231 185.17 231.3 182.17 231.6 185.79 231.9 181.23 232.2 185.43 232.5 182.06 232.8 185.26 233.1 181.37 233.4 184.77 233.7 181.72 234 186.02 234.3 180.58 234.6 186.19 234.9 182.16 235.2 185.48 235.5 181.87 235.8 186.37 236.1 181.97 236.4 184.87" class="sr" stroke-dasharray="4.5 2"/>
<path d="M42 181.4V185.12M51.4 177.38V190.97M53 177.32V187.72M62.7 180.2V187.34M65.6 180.8V186.43M73.1 180.2V186.1M78.8 176.78V197.47M80.7 179V191.62M88.9 178.4V194.68M91.5 174.5V200.47M95 177.38V196.56M96.8 174.44V197.47M122 180.2V189.41M129 180.2V188.83M131.6 180.2V187.72M134.2 177.56V186.43M143.8 180.2V188.5M164.6 175.64V194.68M177 180.2V189.16M180.7 177.38V189.16M184 178.52V188.5" class="skr"/>
<path d="M116.9 162.3V217.8" stroke="#000" stroke-width="1.5" fill="none"/>
<path d="M116.9 170.3V183.5" stroke="#f00" stroke-width="1.1" fill="none"/>
<path d="M116.9 183.5V217.8" stroke="#f00" stroke-width="1.4" fill="none" stroke-dasharray="3 3"/>
<path d="M123.7 164.9V216.1" stroke="#000" stroke-width="1.5" fill="none"/>
<path d="M123.7 172.9V183.5" stroke="#f00" stroke-width="1.1" fill="none"/>
<path d="M123.7 183.5V216.1" stroke="#f00" stroke-width="1.4" fill="none" stroke-dasharray="3 3"/>
<path d="M136.8 146V218.7" stroke="#000" stroke-width="1.5" fill="none"/>
<path d="M136.8 154V183.5" stroke="#f00" stroke-width="1.1" fill="none"/>
<path d="M136.8 183.5V218.7" stroke="#f00" stroke-width="1.4" fill="none" stroke-dasharray="3 3"/>
<circle cx="91" cy="171" r="1.8" class="hit" stroke-width="1.15"/>
<circle cx="116.9" cy="171" r="1.8" class="hit" stroke-width="1.15"/>
<circle cx="123.7" cy="171" r="1.8" class="hit" stroke-width="1.15"/>
<circle cx="136.8" cy="171" r="1.8" class="hit" stroke-width="1.15"/>
<path d="M40.5 229.5v-2.6M40.5 137.5v2.6M138.55 229.5v-2.6M138.55 137.5v2.6M236.6 229.5v-2.6M236.6 137.5v2.6M40.5 229.5h2.6M236.6 229.5h-2.6M40.5 206.5h2.6M236.6 206.5h-2.6M40.5 183.5h2.6M236.6 183.5h-2.6M40.5 160.5h2.6M236.6 160.5h-2.6M40.5 137.5h2.6M236.6 137.5h-2.6" class="tk"/>
<rect x="40.5" y="137.5" width="196.1" height="92" class="ax"/>
<text x="36" y="140.9" class="tb" text-anchor="end">200</text>
<text x="36" y="163.9" class="tb" text-anchor="end">100</text>
<text x="34.4" y="186.9" class="tb" text-anchor="end">0</text>
<text x="38.8" y="209.9" class="tb" text-anchor="end">−100</text>
<text x="38.8" y="232.9" class="tb" text-anchor="end">−200</text>
<text x="41.6" y="239.8" class="tb" text-anchor="middle">3.5</text>
<text x="138.4" y="239.8" class="tb" text-anchor="middle">4</text>
<text x="237.6" y="239.8" class="tb" text-anchor="middle">4.5</text>
<text x="143.4" y="253.2" class="lb" text-anchor="middle">Sample</text>
<text transform="translate(15.4 178.6) rotate(-90)" class="lb" text-anchor="middle">Amplitude</text>
<text x="243.8" y="252.2" class="tl">x 10</text><text x="260.6" y="243.8" class="sup">5</text>
<path d="M347.62 137.4V229.5M396.75 137.4V229.5M445.88 137.4V229.5M298.5 160.43H495M298.5 183.45H495M298.5 206.47H495" class="g3"/>
<path d="M298.5 182.5C298.98 182.37 300.43 181.75 301.4 181.7C302.37 181.65 303.35 182.35 304.3 182.2C305.25 182.05 306.07 180.62 307.1 180.8C308.13 180.98 309.37 183.2 310.5 183.3C311.63 183.4 312.57 182 313.9 181.4C315.23 180.8 316.98 179.77 318.5 179.7C320.02 179.63 321.4 180.53 323 181C324.6 181.47 326.58 182.3 328.1 182.5C329.62 182.7 330.68 182.45 332.1 182.2C333.52 181.95 335.08 181.47 336.6 181C338.12 180.53 339.68 179.57 341.2 179.4C342.72 179.23 344.28 179.82 345.7 180C347.12 180.18 348.42 180 349.7 180.5C350.98 181 352.42 181.87 353.4 183C354.38 184.13 354.87 185.43 355.6 187.3C356.33 189.17 357.07 191.83 357.8 194.2C358.53 196.57 359.25 198.78 360 201.5C360.75 204.22 361.5 207.75 362.3 210.5C363.1 213.25 364.02 217.5 364.8 218C365.58 218.5 366.3 215.75 367 213.5C367.7 211.25 368.28 208.25 369 204.5C369.72 200.75 370.55 195.67 371.3 191C372.05 186.33 372.65 183.1 373.5 176.5C374.35 169.9 375.62 156.42 376.4 151.4C377.18 146.38 377.52 146.4 378.2 146.4C378.88 146.4 379.75 148.68 380.5 151.4C381.25 154.12 381.95 158.53 382.7 162.7C383.45 166.87 384.23 172.42 385 176.4C385.77 180.38 386.47 183.88 387.3 186.6C388.13 189.32 389.17 191.38 390 192.7C390.83 194.02 391.55 194.65 392.3 194.5C393.05 194.35 393.55 192.82 394.5 191.8C395.45 190.78 397.08 189.17 398 188.4C398.92 187.63 399.1 187.88 400 187.2C400.9 186.52 402.17 185.29 403.4 184.3C404.63 183.31 406.27 181.58 407.4 181.25C408.53 180.92 408.97 182.12 410.2 182.3C411.43 182.48 413.08 182.3 414.8 182.3C416.52 182.3 418.8 182.06 420.5 182.3C422.2 182.54 423.58 183.32 425 183.75C426.42 184.18 427.77 184.61 429 184.9C430.23 185.19 431.37 185.98 432.4 185.5C433.43 185.02 434.17 183.1 435.2 182C436.23 180.9 437.47 179.32 438.6 178.9C439.73 178.48 440.67 179.27 442 179.5C443.33 179.73 445.08 179.68 446.6 180.3C448.12 180.92 449.58 182.62 451.1 183.2C452.62 183.77 453.95 183.75 455.7 183.75C457.45 183.75 459.87 183.2 461.6 183.2C463.33 183.2 464.68 183.85 466.1 183.75C467.52 183.65 468.77 182.79 470.1 182.6C471.43 182.41 472.87 182.45 474.1 182.6C475.33 182.75 476.18 183.35 477.5 183.5C478.82 183.65 480.38 183.58 482 183.5C483.62 183.42 485.87 182.77 487.2 183C488.53 183.23 489.15 184.4 490 184.9C490.85 185.4 491.5 186 492.3 186C493.1 186 494.38 185.08 494.8 184.9" stroke="#000" stroke-width="1.65" fill="none" stroke-linejoin="round"/>
<path d="M298.5 182.5C298.98 182.37 300.43 181.75 301.4 181.7C302.37 181.65 303.35 182.35 304.3 182.2C305.25 182.05 306.07 180.62 307.1 180.8C308.13 180.98 309.37 183.2 310.5 183.3C311.63 183.4 312.57 182 313.9 181.4C315.23 180.8 316.98 179.77 318.5 179.7C320.02 179.63 321.4 180.53 323 181C324.6 181.47 326.58 182.3 328.1 182.5C329.62 182.7 330.68 182.45 332.1 182.2C333.52 181.95 335.08 181.47 336.6 181C338.12 180.53 339.68 179.57 341.2 179.4C342.72 179.23 344.28 179.82 345.7 180C347.12 180.18 348.42 180 349.7 180.5C350.98 181 352.42 181.87 353.4 183C354.38 184.13 354.87 185.43 355.6 187.3C356.33 189.17 357.07 191.83 357.8 194.2C358.53 196.57 359.25 198.78 360 201.5C360.75 204.22 361.5 207.75 362.3 210.5C363.1 213.25 364.02 217.5 364.8 218C365.58 218.5 366.3 215.75 367 213.5C367.7 211.25 368.28 208.25 369 204.5C369.72 200.75 370.55 195.67 371.3 191C372.05 186.33 372.65 183.1 373.5 176.5C374.35 169.9 375.62 156.42 376.4 151.4C377.18 146.38 377.52 146.4 378.2 146.4C378.88 146.4 379.75 148.68 380.5 151.4C381.25 154.12 381.95 158.53 382.7 162.7C383.45 166.87 384.23 172.42 385 176.4C385.77 180.38 386.47 183.88 387.3 186.6C388.13 189.32 389.17 191.38 390 192.7C390.83 194.02 391.55 194.65 392.3 194.5C393.05 194.35 393.55 192.82 394.5 191.8C395.45 190.78 397.08 189.17 398 188.4C398.92 187.63 399.1 187.88 400 187.2C400.9 186.52 402.17 185.29 403.4 184.3C404.63 183.31 406.27 181.58 407.4 181.25C408.53 180.92 408.97 182.12 410.2 182.3C411.43 182.48 413.08 182.3 414.8 182.3C416.52 182.3 418.8 182.06 420.5 182.3C422.2 182.54 423.58 183.32 425 183.75C426.42 184.18 427.77 184.61 429 184.9C430.23 185.19 431.37 185.98 432.4 185.5C433.43 185.02 434.17 183.1 435.2 182C436.23 180.9 437.47 179.32 438.6 178.9C439.73 178.48 440.67 179.27 442 179.5C443.33 179.73 445.08 179.68 446.6 180.3C448.12 180.92 449.58 182.62 451.1 183.2C452.62 183.77 453.95 183.75 455.7 183.75C457.45 183.75 459.87 183.2 461.6 183.2C463.33 183.2 464.68 183.85 466.1 183.75C467.52 183.65 468.77 182.79 470.1 182.6C471.43 182.41 472.87 182.45 474.1 182.6C475.33 182.75 476.18 183.35 477.5 183.5C478.82 183.65 480.38 183.58 482 183.5C483.62 183.42 485.87 182.77 487.2 183C488.53 183.23 489.15 184.4 490 184.9C490.85 185.4 491.5 186 492.3 186C493.1 186 494.38 185.08 494.8 184.9" stroke="#f00" stroke-width="1.45" fill="none" stroke-dasharray="4.5 2.5"/>
<path d="M415 182.3V146" stroke="#000" stroke-width="1.6" fill="none"/>
<path d="M419.9 168.2L460.2 153.4" stroke="#000" stroke-width="0.9" fill="none"/>
<circle cx="398" cy="170.7" r="2" fill="none" stroke="#00f" stroke-width="1.2"/>
<text x="431.2" y="149.6" class="sp">Spike noise</text>
<path d="M298.5 229.5v-2.5M298.5 137.4v2.5M347.62 229.5v-2.5M347.62 137.4v2.5M396.75 229.5v-2.5M396.75 137.4v2.5M445.88 229.5v-2.5M445.88 137.4v2.5M495 229.5v-2.5M495 137.4v2.5M298.5 229.5h2.5M495 229.5h-2.5M298.5 206.47h2.5M495 206.47h-2.5M298.5 183.45h2.5M495 183.45h-2.5M298.5 160.43h2.5M495 160.43h-2.5M298.5 137.4h2.5M495 137.4h-2.5" class="tk"/>
<rect x="298.5" y="137.4" width="196.5" height="92.1" class="ax"/>
<text x="297.6" y="140.5" class="ts" text-anchor="end">200</text>
<text x="297.4" y="163.3" class="ts" text-anchor="end">100</text>
<text x="296.6" y="186.9" class="ts" text-anchor="end">0</text>
<text x="299.3" y="210.1" class="ts" text-anchor="end">−100</text>
<text x="298.95" y="232.9" class="ts" text-anchor="end">−200</text>
<text x="300.5" y="240.9" class="tl" text-anchor="middle">3.992</text>
<text x="349.3" y="240.9" class="tl" text-anchor="middle">3.993</text>
<text x="398.4" y="240.9" class="tl" text-anchor="middle">3.994</text>
<text x="448" y="240.9" class="tl" text-anchor="middle">3.995</text>
<text x="496.9" y="240.9" class="tl" text-anchor="middle">3.996</text>
<text x="401.6" y="255.3" class="lb" text-anchor="middle">Sample</text>
<text transform="translate(277.6 181) rotate(-90)" class="lb2" text-anchor="middle">Amplitude</text>
<text x="506.9" y="252.4" class="tl">x 10</text><text x="524.3" y="245.7" class="sup" font-size="6">5</text>
</svg>
</body></html>
